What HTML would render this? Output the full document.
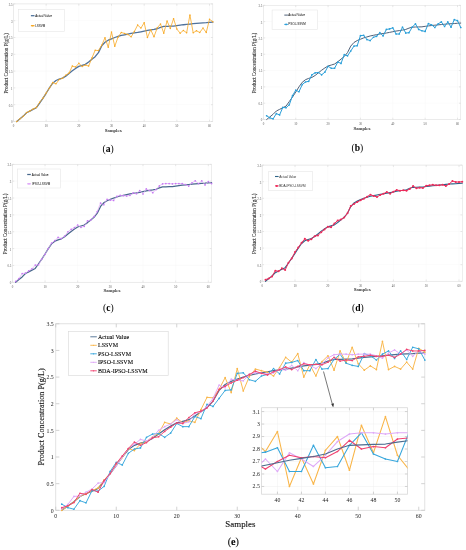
<!DOCTYPE html>
<html><head><meta charset="utf-8"><title>Figure</title>
<style>
html,body{margin:0;padding:0;background:#fff;}
body{width:466px;height:550px;overflow:hidden;font-family:"Liberation Serif",serif;}
svg{display:block;will-change:transform;}
</style></head><body>
<svg width="466" height="550" viewBox="0 0 466 550">
<rect width="466" height="550" fill="#fff"/>
<line x1="13.5" y1="3.9" x2="13.5" y2="121.5" stroke="#f5f5f5" stroke-width="0.45"/>
<line x1="46.17" y1="3.9" x2="46.17" y2="121.5" stroke="#f5f5f5" stroke-width="0.45"/>
<line x1="78.84" y1="3.9" x2="78.84" y2="121.5" stroke="#f5f5f5" stroke-width="0.45"/>
<line x1="111.51" y1="3.9" x2="111.51" y2="121.5" stroke="#f5f5f5" stroke-width="0.45"/>
<line x1="144.18" y1="3.9" x2="144.18" y2="121.5" stroke="#f5f5f5" stroke-width="0.45"/>
<line x1="176.85" y1="3.9" x2="176.85" y2="121.5" stroke="#f5f5f5" stroke-width="0.45"/>
<line x1="209.52" y1="3.9" x2="209.52" y2="121.5" stroke="#f5f5f5" stroke-width="0.45"/>
<line x1="13.5" y1="121.5" x2="212.79" y2="121.5" stroke="#f5f5f5" stroke-width="0.45"/>
<line x1="13.5" y1="104.7" x2="212.79" y2="104.7" stroke="#f5f5f5" stroke-width="0.45"/>
<line x1="13.5" y1="87.9" x2="212.79" y2="87.9" stroke="#f5f5f5" stroke-width="0.45"/>
<line x1="13.5" y1="71.1" x2="212.79" y2="71.1" stroke="#f5f5f5" stroke-width="0.45"/>
<line x1="13.5" y1="54.3" x2="212.79" y2="54.3" stroke="#f5f5f5" stroke-width="0.45"/>
<line x1="13.5" y1="37.5" x2="212.79" y2="37.5" stroke="#f5f5f5" stroke-width="0.45"/>
<line x1="13.5" y1="20.7" x2="212.79" y2="20.7" stroke="#f5f5f5" stroke-width="0.45"/>
<line x1="13.5" y1="3.9" x2="212.79" y2="3.9" stroke="#f5f5f5" stroke-width="0.45"/>
<rect x="13.5" y="3.9" width="199.29" height="117.6" fill="none" stroke="#e2e2e2" stroke-width="0.6"/>
<line x1="13.5" y1="121.5" x2="13.5" y2="119.7" stroke="#d8d8d8" stroke-width="0.6"/>
<line x1="13.5" y1="3.9" x2="13.5" y2="5.7" stroke="#d8d8d8" stroke-width="0.6"/>
<line x1="46.17" y1="121.5" x2="46.17" y2="119.7" stroke="#d8d8d8" stroke-width="0.6"/>
<line x1="46.17" y1="3.9" x2="46.17" y2="5.7" stroke="#d8d8d8" stroke-width="0.6"/>
<line x1="78.84" y1="121.5" x2="78.84" y2="119.7" stroke="#d8d8d8" stroke-width="0.6"/>
<line x1="78.84" y1="3.9" x2="78.84" y2="5.7" stroke="#d8d8d8" stroke-width="0.6"/>
<line x1="111.51" y1="121.5" x2="111.51" y2="119.7" stroke="#d8d8d8" stroke-width="0.6"/>
<line x1="111.51" y1="3.9" x2="111.51" y2="5.7" stroke="#d8d8d8" stroke-width="0.6"/>
<line x1="144.18" y1="121.5" x2="144.18" y2="119.7" stroke="#d8d8d8" stroke-width="0.6"/>
<line x1="144.18" y1="3.9" x2="144.18" y2="5.7" stroke="#d8d8d8" stroke-width="0.6"/>
<line x1="176.85" y1="121.5" x2="176.85" y2="119.7" stroke="#d8d8d8" stroke-width="0.6"/>
<line x1="176.85" y1="3.9" x2="176.85" y2="5.7" stroke="#d8d8d8" stroke-width="0.6"/>
<line x1="209.52" y1="121.5" x2="209.52" y2="119.7" stroke="#d8d8d8" stroke-width="0.6"/>
<line x1="209.52" y1="3.9" x2="209.52" y2="5.7" stroke="#d8d8d8" stroke-width="0.6"/>
<line x1="13.5" y1="121.5" x2="15.3" y2="121.5" stroke="#d8d8d8" stroke-width="0.6"/>
<line x1="212.79" y1="121.5" x2="210.99" y2="121.5" stroke="#d8d8d8" stroke-width="0.6"/>
<line x1="13.5" y1="104.7" x2="15.3" y2="104.7" stroke="#d8d8d8" stroke-width="0.6"/>
<line x1="212.79" y1="104.7" x2="210.99" y2="104.7" stroke="#d8d8d8" stroke-width="0.6"/>
<line x1="13.5" y1="87.9" x2="15.3" y2="87.9" stroke="#d8d8d8" stroke-width="0.6"/>
<line x1="212.79" y1="87.9" x2="210.99" y2="87.9" stroke="#d8d8d8" stroke-width="0.6"/>
<line x1="13.5" y1="71.1" x2="15.3" y2="71.1" stroke="#d8d8d8" stroke-width="0.6"/>
<line x1="212.79" y1="71.1" x2="210.99" y2="71.1" stroke="#d8d8d8" stroke-width="0.6"/>
<line x1="13.5" y1="54.3" x2="15.3" y2="54.3" stroke="#d8d8d8" stroke-width="0.6"/>
<line x1="212.79" y1="54.3" x2="210.99" y2="54.3" stroke="#d8d8d8" stroke-width="0.6"/>
<line x1="13.5" y1="37.5" x2="15.3" y2="37.5" stroke="#d8d8d8" stroke-width="0.6"/>
<line x1="212.79" y1="37.5" x2="210.99" y2="37.5" stroke="#d8d8d8" stroke-width="0.6"/>
<line x1="13.5" y1="20.7" x2="15.3" y2="20.7" stroke="#d8d8d8" stroke-width="0.6"/>
<line x1="212.79" y1="20.7" x2="210.99" y2="20.7" stroke="#d8d8d8" stroke-width="0.6"/>
<line x1="13.5" y1="3.9" x2="15.3" y2="3.9" stroke="#d8d8d8" stroke-width="0.6"/>
<line x1="212.79" y1="3.9" x2="210.99" y2="3.9" stroke="#d8d8d8" stroke-width="0.6"/>
<text x="13.5" y="126.9" font-size="3.1" fill="#555" text-anchor="middle" font-family='"Liberation Serif", serif'>0</text>
<text x="46.17" y="126.9" font-size="3.1" fill="#555" text-anchor="middle" font-family='"Liberation Serif", serif'>10</text>
<text x="78.84" y="126.9" font-size="3.1" fill="#555" text-anchor="middle" font-family='"Liberation Serif", serif'>20</text>
<text x="111.51" y="126.9" font-size="3.1" fill="#555" text-anchor="middle" font-family='"Liberation Serif", serif'>30</text>
<text x="144.18" y="126.9" font-size="3.1" fill="#555" text-anchor="middle" font-family='"Liberation Serif", serif'>40</text>
<text x="176.85" y="126.9" font-size="3.1" fill="#555" text-anchor="middle" font-family='"Liberation Serif", serif'>50</text>
<text x="209.52" y="126.9" font-size="3.1" fill="#555" text-anchor="middle" font-family='"Liberation Serif", serif'>60</text>
<text x="12.5" y="123.42" font-size="3.1" fill="#555" text-anchor="end" font-family='"Liberation Serif", serif'>0</text>
<text x="12.5" y="106.62" font-size="3.1" fill="#555" text-anchor="end" font-family='"Liberation Serif", serif'>0.5</text>
<text x="12.5" y="89.82" font-size="3.1" fill="#555" text-anchor="end" font-family='"Liberation Serif", serif'>1</text>
<text x="12.5" y="73.02" font-size="3.1" fill="#555" text-anchor="end" font-family='"Liberation Serif", serif'>1.5</text>
<text x="12.5" y="56.22" font-size="3.1" fill="#555" text-anchor="end" font-family='"Liberation Serif", serif'>2</text>
<text x="12.5" y="39.42" font-size="3.1" fill="#555" text-anchor="end" font-family='"Liberation Serif", serif'>2.5</text>
<text x="12.5" y="22.62" font-size="3.1" fill="#555" text-anchor="end" font-family='"Liberation Serif", serif'>3</text>
<text x="12.5" y="5.82" font-size="3.1" fill="#555" text-anchor="end" font-family='"Liberation Serif", serif'>3.5</text>
<polyline points="16.77,121.5 20.03,118.81 23.3,116.12 26.57,112.76 29.84,111.08 33.1,109.4 36.37,107.72 39.64,103.02 42.9,98.32 46.17,93.28 49.44,87.9 52.7,83.2 55.97,80.51 59.24,79.16 62.5,78.16 65.77,76.14 69.04,73.45 72.31,70.76 75.57,68.41 78.84,66.4 82.11,65.39 85.37,64.38 88.64,62.03 91.91,59.34 95.17,56.65 98.44,52.62 101.71,45.9 104.98,42.2 108.24,40.19 111.51,38.84 114.78,37.5 118.04,36.49 121.31,35.48 124.58,34.81 127.84,34.14 131.11,33.47 134.38,32.96 137.65,32.46 140.91,31.79 144.18,31.12 147.45,30.44 150.71,29.94 153.98,29.44 157.25,28.76 160.51,27.42 163.78,26.41 167.05,26.28 170.32,26.18 173.58,26.08 176.85,25.57 180.12,25.14 183.38,24.73 186.65,24.4 189.92,24.06 193.19,23.72 196.45,23.39 199.72,23.05 202.99,22.88 206.25,22.72 209.52,22.38 212.79,22.21" fill="none" stroke="#4f729c" stroke-width="1.3" stroke-linejoin="round" stroke-linecap="round" />
<polyline points="16.77,121.5 20.03,118.81 23.3,116.29 26.57,112.6 29.84,111.08 33.1,109.07 36.37,107.39 39.64,102.35 42.9,98.32 46.17,92.94 49.44,88.24 52.7,82.52 55.97,83.87 59.24,79.5 62.5,78.16 65.77,75.13 69.04,73.12 72.31,66.06 75.57,67.07 78.84,63.37 82.11,66.4 85.37,65.05 88.64,66.06 91.91,58 95.17,50.27 98.44,50.6 101.71,45.23 104.98,37.84 108.24,47.24 111.51,32.12 114.78,46.24 118.04,37.16 121.31,32.46 124.58,33.47 127.84,34.48 131.11,36.83 134.38,31.45 137.65,25.07 140.91,28.09 144.18,22.72 147.45,37.5 150.71,29.77 153.98,36.83 157.25,27.76 160.51,24.06 163.78,33.13 167.05,21.04 170.32,28.43 173.58,18.68 176.85,29.1 180.12,33.13 183.38,30.44 186.65,32.8 189.92,14.99 193.19,32.8 196.45,30.78 199.72,32.46 202.99,28.09 206.25,32.46 209.52,19.36 212.79,21.71" fill="none" stroke="#f7a823" stroke-width="0.8" stroke-linejoin="round" stroke-linecap="round" />
<circle cx="16.77" cy="121.5" r="0.75" fill="#f7a823"/>
<circle cx="20.03" cy="118.81" r="0.75" fill="#f7a823"/>
<circle cx="23.3" cy="116.29" r="0.75" fill="#f7a823"/>
<circle cx="26.57" cy="112.6" r="0.75" fill="#f7a823"/>
<circle cx="29.84" cy="111.08" r="0.75" fill="#f7a823"/>
<circle cx="33.1" cy="109.07" r="0.75" fill="#f7a823"/>
<circle cx="36.37" cy="107.39" r="0.75" fill="#f7a823"/>
<circle cx="39.64" cy="102.35" r="0.75" fill="#f7a823"/>
<circle cx="42.9" cy="98.32" r="0.75" fill="#f7a823"/>
<circle cx="46.17" cy="92.94" r="0.75" fill="#f7a823"/>
<circle cx="49.44" cy="88.24" r="0.75" fill="#f7a823"/>
<circle cx="52.7" cy="82.52" r="0.75" fill="#f7a823"/>
<circle cx="55.97" cy="83.87" r="0.75" fill="#f7a823"/>
<circle cx="59.24" cy="79.5" r="0.75" fill="#f7a823"/>
<circle cx="62.5" cy="78.16" r="0.75" fill="#f7a823"/>
<circle cx="65.77" cy="75.13" r="0.75" fill="#f7a823"/>
<circle cx="69.04" cy="73.12" r="0.75" fill="#f7a823"/>
<circle cx="72.31" cy="66.06" r="0.75" fill="#f7a823"/>
<circle cx="75.57" cy="67.07" r="0.75" fill="#f7a823"/>
<circle cx="78.84" cy="63.37" r="0.75" fill="#f7a823"/>
<circle cx="82.11" cy="66.4" r="0.75" fill="#f7a823"/>
<circle cx="85.37" cy="65.05" r="0.75" fill="#f7a823"/>
<circle cx="88.64" cy="66.06" r="0.75" fill="#f7a823"/>
<circle cx="91.91" cy="58" r="0.75" fill="#f7a823"/>
<circle cx="95.17" cy="50.27" r="0.75" fill="#f7a823"/>
<circle cx="98.44" cy="50.6" r="0.75" fill="#f7a823"/>
<circle cx="101.71" cy="45.23" r="0.75" fill="#f7a823"/>
<circle cx="104.98" cy="37.84" r="0.75" fill="#f7a823"/>
<circle cx="108.24" cy="47.24" r="0.75" fill="#f7a823"/>
<circle cx="111.51" cy="32.12" r="0.75" fill="#f7a823"/>
<circle cx="114.78" cy="46.24" r="0.75" fill="#f7a823"/>
<circle cx="118.04" cy="37.16" r="0.75" fill="#f7a823"/>
<circle cx="121.31" cy="32.46" r="0.75" fill="#f7a823"/>
<circle cx="124.58" cy="33.47" r="0.75" fill="#f7a823"/>
<circle cx="127.84" cy="34.48" r="0.75" fill="#f7a823"/>
<circle cx="131.11" cy="36.83" r="0.75" fill="#f7a823"/>
<circle cx="134.38" cy="31.45" r="0.75" fill="#f7a823"/>
<circle cx="137.65" cy="25.07" r="0.75" fill="#f7a823"/>
<circle cx="140.91" cy="28.09" r="0.75" fill="#f7a823"/>
<circle cx="144.18" cy="22.72" r="0.75" fill="#f7a823"/>
<circle cx="147.45" cy="37.5" r="0.75" fill="#f7a823"/>
<circle cx="150.71" cy="29.77" r="0.75" fill="#f7a823"/>
<circle cx="153.98" cy="36.83" r="0.75" fill="#f7a823"/>
<circle cx="157.25" cy="27.76" r="0.75" fill="#f7a823"/>
<circle cx="160.51" cy="24.06" r="0.75" fill="#f7a823"/>
<circle cx="163.78" cy="33.13" r="0.75" fill="#f7a823"/>
<circle cx="167.05" cy="21.04" r="0.75" fill="#f7a823"/>
<circle cx="170.32" cy="28.43" r="0.75" fill="#f7a823"/>
<circle cx="173.58" cy="18.68" r="0.75" fill="#f7a823"/>
<circle cx="176.85" cy="29.1" r="0.75" fill="#f7a823"/>
<circle cx="180.12" cy="33.13" r="0.75" fill="#f7a823"/>
<circle cx="183.38" cy="30.44" r="0.75" fill="#f7a823"/>
<circle cx="186.65" cy="32.8" r="0.75" fill="#f7a823"/>
<circle cx="189.92" cy="14.99" r="0.75" fill="#f7a823"/>
<circle cx="193.19" cy="32.8" r="0.75" fill="#f7a823"/>
<circle cx="196.45" cy="30.78" r="0.75" fill="#f7a823"/>
<circle cx="199.72" cy="32.46" r="0.75" fill="#f7a823"/>
<circle cx="202.99" cy="28.09" r="0.75" fill="#f7a823"/>
<circle cx="206.25" cy="32.46" r="0.75" fill="#f7a823"/>
<circle cx="209.52" cy="19.36" r="0.75" fill="#f7a823"/>
<circle cx="212.79" cy="21.71" r="0.75" fill="#f7a823"/>
<rect x="18.4" y="9.3" width="46.1" height="22" fill="#fff" stroke="#e6e6e6" stroke-width="0.6"/>
<line x1="30.9" y1="15.7" x2="34.5" y2="15.7" stroke="#4f729c" stroke-width="1.3"/>
<text x="35.2" y="16.75" font-size="3.0" fill="#222" stroke="#222" stroke-width="0.03" font-family='"Liberation Sans", sans-serif'>Actual Value</text>
<line x1="30.9" y1="25.7" x2="34.5" y2="25.7" stroke="#f7a823" stroke-width="1.3"/>
<circle cx="32.7" cy="25.7" r="0.75" fill="#f7a823"/>
<text x="35.2" y="26.75" font-size="3.0" fill="#222" stroke="#222" stroke-width="0.03" font-family='"Liberation Sans", sans-serif'>LSSVM</text>
<text x="113.14" y="131.6" font-size="5.0" fill="#222" stroke="#222" stroke-width="0.08" text-anchor="middle" font-family='"Liberation Serif", serif'>Samples</text>
<text transform="translate(7.9,63.3) rotate(-90)" font-size="5.1" fill="#222" stroke="#222" stroke-width="0.08" text-anchor="middle" font-family='"Liberation Serif", serif'>Product Concentration P(g/L)</text>
<text x="108.2" y="151.5" font-size="9.6" fill="#000" text-anchor="middle" font-family='"Liberation Serif", serif'>(<tspan font-weight="bold">a</tspan>)</text>
<line x1="263.4" y1="5.29" x2="263.4" y2="119.5" stroke="#f5f5f5" stroke-width="0.45"/>
<line x1="295.75" y1="5.29" x2="295.75" y2="119.5" stroke="#f5f5f5" stroke-width="0.45"/>
<line x1="328.1" y1="5.29" x2="328.1" y2="119.5" stroke="#f5f5f5" stroke-width="0.45"/>
<line x1="360.45" y1="5.29" x2="360.45" y2="119.5" stroke="#f5f5f5" stroke-width="0.45"/>
<line x1="392.8" y1="5.29" x2="392.8" y2="119.5" stroke="#f5f5f5" stroke-width="0.45"/>
<line x1="425.15" y1="5.29" x2="425.15" y2="119.5" stroke="#f5f5f5" stroke-width="0.45"/>
<line x1="457.5" y1="5.29" x2="457.5" y2="119.5" stroke="#f5f5f5" stroke-width="0.45"/>
<line x1="263.4" y1="119.5" x2="460.73" y2="119.5" stroke="#f5f5f5" stroke-width="0.45"/>
<line x1="263.4" y1="103.19" x2="460.73" y2="103.19" stroke="#f5f5f5" stroke-width="0.45"/>
<line x1="263.4" y1="86.87" x2="460.73" y2="86.87" stroke="#f5f5f5" stroke-width="0.45"/>
<line x1="263.4" y1="70.55" x2="460.73" y2="70.55" stroke="#f5f5f5" stroke-width="0.45"/>
<line x1="263.4" y1="54.24" x2="460.73" y2="54.24" stroke="#f5f5f5" stroke-width="0.45"/>
<line x1="263.4" y1="37.92" x2="460.73" y2="37.92" stroke="#f5f5f5" stroke-width="0.45"/>
<line x1="263.4" y1="21.61" x2="460.73" y2="21.61" stroke="#f5f5f5" stroke-width="0.45"/>
<line x1="263.4" y1="5.29" x2="460.73" y2="5.29" stroke="#f5f5f5" stroke-width="0.45"/>
<rect x="263.4" y="5.29" width="197.33" height="114.21" fill="none" stroke="#e2e2e2" stroke-width="0.6"/>
<line x1="263.4" y1="119.5" x2="263.4" y2="117.7" stroke="#d8d8d8" stroke-width="0.6"/>
<line x1="263.4" y1="5.29" x2="263.4" y2="7.09" stroke="#d8d8d8" stroke-width="0.6"/>
<line x1="295.75" y1="119.5" x2="295.75" y2="117.7" stroke="#d8d8d8" stroke-width="0.6"/>
<line x1="295.75" y1="5.29" x2="295.75" y2="7.09" stroke="#d8d8d8" stroke-width="0.6"/>
<line x1="328.1" y1="119.5" x2="328.1" y2="117.7" stroke="#d8d8d8" stroke-width="0.6"/>
<line x1="328.1" y1="5.29" x2="328.1" y2="7.09" stroke="#d8d8d8" stroke-width="0.6"/>
<line x1="360.45" y1="119.5" x2="360.45" y2="117.7" stroke="#d8d8d8" stroke-width="0.6"/>
<line x1="360.45" y1="5.29" x2="360.45" y2="7.09" stroke="#d8d8d8" stroke-width="0.6"/>
<line x1="392.8" y1="119.5" x2="392.8" y2="117.7" stroke="#d8d8d8" stroke-width="0.6"/>
<line x1="392.8" y1="5.29" x2="392.8" y2="7.09" stroke="#d8d8d8" stroke-width="0.6"/>
<line x1="425.15" y1="119.5" x2="425.15" y2="117.7" stroke="#d8d8d8" stroke-width="0.6"/>
<line x1="425.15" y1="5.29" x2="425.15" y2="7.09" stroke="#d8d8d8" stroke-width="0.6"/>
<line x1="457.5" y1="119.5" x2="457.5" y2="117.7" stroke="#d8d8d8" stroke-width="0.6"/>
<line x1="457.5" y1="5.29" x2="457.5" y2="7.09" stroke="#d8d8d8" stroke-width="0.6"/>
<line x1="263.4" y1="119.5" x2="265.2" y2="119.5" stroke="#d8d8d8" stroke-width="0.6"/>
<line x1="460.73" y1="119.5" x2="458.93" y2="119.5" stroke="#d8d8d8" stroke-width="0.6"/>
<line x1="263.4" y1="103.19" x2="265.2" y2="103.19" stroke="#d8d8d8" stroke-width="0.6"/>
<line x1="460.73" y1="103.19" x2="458.93" y2="103.19" stroke="#d8d8d8" stroke-width="0.6"/>
<line x1="263.4" y1="86.87" x2="265.2" y2="86.87" stroke="#d8d8d8" stroke-width="0.6"/>
<line x1="460.73" y1="86.87" x2="458.93" y2="86.87" stroke="#d8d8d8" stroke-width="0.6"/>
<line x1="263.4" y1="70.55" x2="265.2" y2="70.55" stroke="#d8d8d8" stroke-width="0.6"/>
<line x1="460.73" y1="70.55" x2="458.93" y2="70.55" stroke="#d8d8d8" stroke-width="0.6"/>
<line x1="263.4" y1="54.24" x2="265.2" y2="54.24" stroke="#d8d8d8" stroke-width="0.6"/>
<line x1="460.73" y1="54.24" x2="458.93" y2="54.24" stroke="#d8d8d8" stroke-width="0.6"/>
<line x1="263.4" y1="37.92" x2="265.2" y2="37.92" stroke="#d8d8d8" stroke-width="0.6"/>
<line x1="460.73" y1="37.92" x2="458.93" y2="37.92" stroke="#d8d8d8" stroke-width="0.6"/>
<line x1="263.4" y1="21.61" x2="265.2" y2="21.61" stroke="#d8d8d8" stroke-width="0.6"/>
<line x1="460.73" y1="21.61" x2="458.93" y2="21.61" stroke="#d8d8d8" stroke-width="0.6"/>
<line x1="263.4" y1="5.29" x2="265.2" y2="5.29" stroke="#d8d8d8" stroke-width="0.6"/>
<line x1="460.73" y1="5.29" x2="458.93" y2="5.29" stroke="#d8d8d8" stroke-width="0.6"/>
<text x="263.4" y="124.9" font-size="3.1" fill="#555" text-anchor="middle" font-family='"Liberation Serif", serif'>0</text>
<text x="295.75" y="124.9" font-size="3.1" fill="#555" text-anchor="middle" font-family='"Liberation Serif", serif'>10</text>
<text x="328.1" y="124.9" font-size="3.1" fill="#555" text-anchor="middle" font-family='"Liberation Serif", serif'>20</text>
<text x="360.45" y="124.9" font-size="3.1" fill="#555" text-anchor="middle" font-family='"Liberation Serif", serif'>30</text>
<text x="392.8" y="124.9" font-size="3.1" fill="#555" text-anchor="middle" font-family='"Liberation Serif", serif'>40</text>
<text x="425.15" y="124.9" font-size="3.1" fill="#555" text-anchor="middle" font-family='"Liberation Serif", serif'>50</text>
<text x="457.5" y="124.9" font-size="3.1" fill="#555" text-anchor="middle" font-family='"Liberation Serif", serif'>60</text>
<text x="262.4" y="121.42" font-size="3.1" fill="#555" text-anchor="end" font-family='"Liberation Serif", serif'>0</text>
<text x="262.4" y="105.11" font-size="3.1" fill="#555" text-anchor="end" font-family='"Liberation Serif", serif'>0.5</text>
<text x="262.4" y="88.79" font-size="3.1" fill="#555" text-anchor="end" font-family='"Liberation Serif", serif'>1</text>
<text x="262.4" y="72.48" font-size="3.1" fill="#555" text-anchor="end" font-family='"Liberation Serif", serif'>1.5</text>
<text x="262.4" y="56.16" font-size="3.1" fill="#555" text-anchor="end" font-family='"Liberation Serif", serif'>2</text>
<text x="262.4" y="39.85" font-size="3.1" fill="#555" text-anchor="end" font-family='"Liberation Serif", serif'>2.5</text>
<text x="262.4" y="23.53" font-size="3.1" fill="#555" text-anchor="end" font-family='"Liberation Serif", serif'>3</text>
<text x="262.4" y="7.22" font-size="3.1" fill="#555" text-anchor="end" font-family='"Liberation Serif", serif'>3.5</text>
<polyline points="266.63,119.5 269.87,116.89 273.1,114.28 276.34,111.02 279.57,109.38 282.81,107.75 286.04,106.12 289.28,101.55 292.51,96.99 295.75,92.09 298.98,86.87 302.22,82.3 305.45,79.69 308.69,78.39 311.92,77.41 315.16,75.45 318.39,72.84 321.63,70.23 324.86,67.94 328.1,65.99 331.33,65.01 334.57,64.03 337.8,61.74 341.04,59.13 344.27,56.52 347.51,52.61 350.75,46.08 353.98,42.49 357.21,40.54 360.45,39.23 363.68,37.92 366.92,36.95 370.15,35.97 373.39,35.31 376.62,34.66 379.86,34.01 383.09,33.52 386.33,33.03 389.56,32.38 392.8,31.73 396.03,31.07 399.27,30.58 402.5,30.09 405.74,29.44 408.97,28.14 412.21,27.16 415.44,27.03 418.68,26.93 421.91,26.83 425.15,26.34 428.38,25.92 431.62,25.53 434.85,25.2 438.09,24.87 441.32,24.55 444.56,24.22 447.79,23.89 451.03,23.73 454.26,23.57 457.5,23.24 460.73,23.08" fill="none" stroke="#4f6078" stroke-width="1.0" stroke-linejoin="round" stroke-linecap="round" />
<polyline points="266.63,115.75 269.87,117.87 273.1,118.85 276.34,113.63 279.57,114.93 282.81,107.43 286.04,107.75 289.28,104.82 292.51,95.68 295.75,90.13 298.98,91.76 302.22,84.59 305.45,81.98 308.69,81.32 311.92,74.8 315.16,72.84 318.39,72.51 321.63,74.8 324.86,72.19 328.1,66.31 331.33,68.27 334.57,68.27 337.8,62.07 341.04,63.38 344.27,54.57 347.51,55.87 350.75,50.98 353.98,46.08 357.21,45.76 360.45,35.64 363.68,35.31 366.92,39.56 370.15,40.54 373.39,37.27 376.62,36.29 379.86,32.7 383.09,35.97 386.33,29.44 389.56,28.95 392.8,27.81 396.03,34.01 399.27,34.01 402.5,27.16 405.74,33.03 408.97,32.7 412.21,27.16 415.44,23.89 418.68,29.44 421.91,30.75 425.15,31.4 428.38,23.57 431.62,24.87 434.85,27.48 438.09,23.89 441.32,21.94 444.56,26.5 447.79,21.94 451.03,27.16 454.26,19.65 457.5,20.63 460.73,27.48" fill="none" stroke="#2a9fd9" stroke-width="1.0" stroke-linejoin="round" stroke-linecap="round" />
<circle cx="266.63" cy="115.75" r="0.85" fill="#2a9fd9"/>
<circle cx="269.87" cy="117.87" r="0.85" fill="#2a9fd9"/>
<circle cx="273.1" cy="118.85" r="0.85" fill="#2a9fd9"/>
<circle cx="276.34" cy="113.63" r="0.85" fill="#2a9fd9"/>
<circle cx="279.57" cy="114.93" r="0.85" fill="#2a9fd9"/>
<circle cx="282.81" cy="107.43" r="0.85" fill="#2a9fd9"/>
<circle cx="286.04" cy="107.75" r="0.85" fill="#2a9fd9"/>
<circle cx="289.28" cy="104.82" r="0.85" fill="#2a9fd9"/>
<circle cx="292.51" cy="95.68" r="0.85" fill="#2a9fd9"/>
<circle cx="295.75" cy="90.13" r="0.85" fill="#2a9fd9"/>
<circle cx="298.98" cy="91.76" r="0.85" fill="#2a9fd9"/>
<circle cx="302.22" cy="84.59" r="0.85" fill="#2a9fd9"/>
<circle cx="305.45" cy="81.98" r="0.85" fill="#2a9fd9"/>
<circle cx="308.69" cy="81.32" r="0.85" fill="#2a9fd9"/>
<circle cx="311.92" cy="74.8" r="0.85" fill="#2a9fd9"/>
<circle cx="315.16" cy="72.84" r="0.85" fill="#2a9fd9"/>
<circle cx="318.39" cy="72.51" r="0.85" fill="#2a9fd9"/>
<circle cx="321.63" cy="74.8" r="0.85" fill="#2a9fd9"/>
<circle cx="324.86" cy="72.19" r="0.85" fill="#2a9fd9"/>
<circle cx="328.1" cy="66.31" r="0.85" fill="#2a9fd9"/>
<circle cx="331.33" cy="68.27" r="0.85" fill="#2a9fd9"/>
<circle cx="334.57" cy="68.27" r="0.85" fill="#2a9fd9"/>
<circle cx="337.8" cy="62.07" r="0.85" fill="#2a9fd9"/>
<circle cx="341.04" cy="63.38" r="0.85" fill="#2a9fd9"/>
<circle cx="344.27" cy="54.57" r="0.85" fill="#2a9fd9"/>
<circle cx="347.51" cy="55.87" r="0.85" fill="#2a9fd9"/>
<circle cx="350.75" cy="50.98" r="0.85" fill="#2a9fd9"/>
<circle cx="353.98" cy="46.08" r="0.85" fill="#2a9fd9"/>
<circle cx="357.21" cy="45.76" r="0.85" fill="#2a9fd9"/>
<circle cx="360.45" cy="35.64" r="0.85" fill="#2a9fd9"/>
<circle cx="363.68" cy="35.31" r="0.85" fill="#2a9fd9"/>
<circle cx="366.92" cy="39.56" r="0.85" fill="#2a9fd9"/>
<circle cx="370.15" cy="40.54" r="0.85" fill="#2a9fd9"/>
<circle cx="373.39" cy="37.27" r="0.85" fill="#2a9fd9"/>
<circle cx="376.62" cy="36.29" r="0.85" fill="#2a9fd9"/>
<circle cx="379.86" cy="32.7" r="0.85" fill="#2a9fd9"/>
<circle cx="383.09" cy="35.97" r="0.85" fill="#2a9fd9"/>
<circle cx="386.33" cy="29.44" r="0.85" fill="#2a9fd9"/>
<circle cx="389.56" cy="28.95" r="0.85" fill="#2a9fd9"/>
<circle cx="392.8" cy="27.81" r="0.85" fill="#2a9fd9"/>
<circle cx="396.03" cy="34.01" r="0.85" fill="#2a9fd9"/>
<circle cx="399.27" cy="34.01" r="0.85" fill="#2a9fd9"/>
<circle cx="402.5" cy="27.16" r="0.85" fill="#2a9fd9"/>
<circle cx="405.74" cy="33.03" r="0.85" fill="#2a9fd9"/>
<circle cx="408.97" cy="32.7" r="0.85" fill="#2a9fd9"/>
<circle cx="412.21" cy="27.16" r="0.85" fill="#2a9fd9"/>
<circle cx="415.44" cy="23.89" r="0.85" fill="#2a9fd9"/>
<circle cx="418.68" cy="29.44" r="0.85" fill="#2a9fd9"/>
<circle cx="421.91" cy="30.75" r="0.85" fill="#2a9fd9"/>
<circle cx="425.15" cy="31.4" r="0.85" fill="#2a9fd9"/>
<circle cx="428.38" cy="23.57" r="0.85" fill="#2a9fd9"/>
<circle cx="431.62" cy="24.87" r="0.85" fill="#2a9fd9"/>
<circle cx="434.85" cy="27.48" r="0.85" fill="#2a9fd9"/>
<circle cx="438.09" cy="23.89" r="0.85" fill="#2a9fd9"/>
<circle cx="441.32" cy="21.94" r="0.85" fill="#2a9fd9"/>
<circle cx="444.56" cy="26.5" r="0.85" fill="#2a9fd9"/>
<circle cx="447.79" cy="21.94" r="0.85" fill="#2a9fd9"/>
<circle cx="451.03" cy="27.16" r="0.85" fill="#2a9fd9"/>
<circle cx="454.26" cy="19.65" r="0.85" fill="#2a9fd9"/>
<circle cx="457.5" cy="20.63" r="0.85" fill="#2a9fd9"/>
<circle cx="460.73" cy="27.48" r="0.85" fill="#2a9fd9"/>
<rect x="272.1" y="10" width="45.5" height="19.5" fill="#fff" stroke="#e6e6e6" stroke-width="0.6"/>
<line x1="284.3" y1="15.1" x2="287.9" y2="15.1" stroke="#4f6078" stroke-width="1.0"/>
<text x="288.2" y="16.15" font-size="3.0" fill="#222" stroke="#222" stroke-width="0.03" font-family='"Liberation Sans", sans-serif'>Actual Value</text>
<line x1="284.3" y1="24.4" x2="287.9" y2="24.4" stroke="#2a9fd9" stroke-width="1.0"/>
<circle cx="286.1" cy="24.4" r="0.85" fill="#2a9fd9"/>
<text x="288.2" y="25.45" font-size="3.0" fill="#222" stroke="#222" stroke-width="0.03" font-family='"Liberation Sans", sans-serif'>PSO-LSSVM</text>
<text x="362.07" y="129.9" font-size="5.0" fill="#222" stroke="#222" stroke-width="0.08" text-anchor="middle" font-family='"Liberation Serif", serif'>Samples</text>
<text transform="translate(256,63) rotate(-90)" font-size="5.1" fill="#222" stroke="#222" stroke-width="0.08" text-anchor="middle" font-family='"Liberation Serif", serif'>Product Concentration P(g/L)</text>
<text x="357.4" y="151.3" font-size="9.6" fill="#000" text-anchor="middle" font-family='"Liberation Serif", serif'>(<tspan font-weight="bold">b</tspan>)</text>
<line x1="12.4" y1="164.31" x2="12.4" y2="282.3" stroke="#f5f5f5" stroke-width="0.45"/>
<line x1="45.05" y1="164.31" x2="45.05" y2="282.3" stroke="#f5f5f5" stroke-width="0.45"/>
<line x1="77.7" y1="164.31" x2="77.7" y2="282.3" stroke="#f5f5f5" stroke-width="0.45"/>
<line x1="110.35" y1="164.31" x2="110.35" y2="282.3" stroke="#f5f5f5" stroke-width="0.45"/>
<line x1="143" y1="164.31" x2="143" y2="282.3" stroke="#f5f5f5" stroke-width="0.45"/>
<line x1="175.65" y1="164.31" x2="175.65" y2="282.3" stroke="#f5f5f5" stroke-width="0.45"/>
<line x1="208.3" y1="164.31" x2="208.3" y2="282.3" stroke="#f5f5f5" stroke-width="0.45"/>
<line x1="12.4" y1="282.3" x2="211.57" y2="282.3" stroke="#f5f5f5" stroke-width="0.45"/>
<line x1="12.4" y1="265.44" x2="211.57" y2="265.44" stroke="#f5f5f5" stroke-width="0.45"/>
<line x1="12.4" y1="248.59" x2="211.57" y2="248.59" stroke="#f5f5f5" stroke-width="0.45"/>
<line x1="12.4" y1="231.74" x2="211.57" y2="231.74" stroke="#f5f5f5" stroke-width="0.45"/>
<line x1="12.4" y1="214.88" x2="211.57" y2="214.88" stroke="#f5f5f5" stroke-width="0.45"/>
<line x1="12.4" y1="198.03" x2="211.57" y2="198.03" stroke="#f5f5f5" stroke-width="0.45"/>
<line x1="12.4" y1="181.17" x2="211.57" y2="181.17" stroke="#f5f5f5" stroke-width="0.45"/>
<line x1="12.4" y1="164.31" x2="211.57" y2="164.31" stroke="#f5f5f5" stroke-width="0.45"/>
<rect x="12.4" y="164.31" width="199.17" height="117.99" fill="none" stroke="#e2e2e2" stroke-width="0.6"/>
<line x1="12.4" y1="282.3" x2="12.4" y2="280.5" stroke="#d8d8d8" stroke-width="0.6"/>
<line x1="12.4" y1="164.31" x2="12.4" y2="166.12" stroke="#d8d8d8" stroke-width="0.6"/>
<line x1="45.05" y1="282.3" x2="45.05" y2="280.5" stroke="#d8d8d8" stroke-width="0.6"/>
<line x1="45.05" y1="164.31" x2="45.05" y2="166.12" stroke="#d8d8d8" stroke-width="0.6"/>
<line x1="77.7" y1="282.3" x2="77.7" y2="280.5" stroke="#d8d8d8" stroke-width="0.6"/>
<line x1="77.7" y1="164.31" x2="77.7" y2="166.12" stroke="#d8d8d8" stroke-width="0.6"/>
<line x1="110.35" y1="282.3" x2="110.35" y2="280.5" stroke="#d8d8d8" stroke-width="0.6"/>
<line x1="110.35" y1="164.31" x2="110.35" y2="166.12" stroke="#d8d8d8" stroke-width="0.6"/>
<line x1="143" y1="282.3" x2="143" y2="280.5" stroke="#d8d8d8" stroke-width="0.6"/>
<line x1="143" y1="164.31" x2="143" y2="166.12" stroke="#d8d8d8" stroke-width="0.6"/>
<line x1="175.65" y1="282.3" x2="175.65" y2="280.5" stroke="#d8d8d8" stroke-width="0.6"/>
<line x1="175.65" y1="164.31" x2="175.65" y2="166.12" stroke="#d8d8d8" stroke-width="0.6"/>
<line x1="208.3" y1="282.3" x2="208.3" y2="280.5" stroke="#d8d8d8" stroke-width="0.6"/>
<line x1="208.3" y1="164.31" x2="208.3" y2="166.12" stroke="#d8d8d8" stroke-width="0.6"/>
<line x1="12.4" y1="282.3" x2="14.2" y2="282.3" stroke="#d8d8d8" stroke-width="0.6"/>
<line x1="211.57" y1="282.3" x2="209.77" y2="282.3" stroke="#d8d8d8" stroke-width="0.6"/>
<line x1="12.4" y1="265.44" x2="14.2" y2="265.44" stroke="#d8d8d8" stroke-width="0.6"/>
<line x1="211.57" y1="265.44" x2="209.77" y2="265.44" stroke="#d8d8d8" stroke-width="0.6"/>
<line x1="12.4" y1="248.59" x2="14.2" y2="248.59" stroke="#d8d8d8" stroke-width="0.6"/>
<line x1="211.57" y1="248.59" x2="209.77" y2="248.59" stroke="#d8d8d8" stroke-width="0.6"/>
<line x1="12.4" y1="231.74" x2="14.2" y2="231.74" stroke="#d8d8d8" stroke-width="0.6"/>
<line x1="211.57" y1="231.74" x2="209.77" y2="231.74" stroke="#d8d8d8" stroke-width="0.6"/>
<line x1="12.4" y1="214.88" x2="14.2" y2="214.88" stroke="#d8d8d8" stroke-width="0.6"/>
<line x1="211.57" y1="214.88" x2="209.77" y2="214.88" stroke="#d8d8d8" stroke-width="0.6"/>
<line x1="12.4" y1="198.03" x2="14.2" y2="198.03" stroke="#d8d8d8" stroke-width="0.6"/>
<line x1="211.57" y1="198.03" x2="209.77" y2="198.03" stroke="#d8d8d8" stroke-width="0.6"/>
<line x1="12.4" y1="181.17" x2="14.2" y2="181.17" stroke="#d8d8d8" stroke-width="0.6"/>
<line x1="211.57" y1="181.17" x2="209.77" y2="181.17" stroke="#d8d8d8" stroke-width="0.6"/>
<line x1="12.4" y1="164.31" x2="14.2" y2="164.31" stroke="#d8d8d8" stroke-width="0.6"/>
<line x1="211.57" y1="164.31" x2="209.77" y2="164.31" stroke="#d8d8d8" stroke-width="0.6"/>
<text x="12.4" y="287.7" font-size="3.1" fill="#555" text-anchor="middle" font-family='"Liberation Serif", serif'>0</text>
<text x="45.05" y="287.7" font-size="3.1" fill="#555" text-anchor="middle" font-family='"Liberation Serif", serif'>10</text>
<text x="77.7" y="287.7" font-size="3.1" fill="#555" text-anchor="middle" font-family='"Liberation Serif", serif'>20</text>
<text x="110.35" y="287.7" font-size="3.1" fill="#555" text-anchor="middle" font-family='"Liberation Serif", serif'>30</text>
<text x="143" y="287.7" font-size="3.1" fill="#555" text-anchor="middle" font-family='"Liberation Serif", serif'>40</text>
<text x="175.65" y="287.7" font-size="3.1" fill="#555" text-anchor="middle" font-family='"Liberation Serif", serif'>50</text>
<text x="208.3" y="287.7" font-size="3.1" fill="#555" text-anchor="middle" font-family='"Liberation Serif", serif'>60</text>
<text x="11.4" y="284.22" font-size="3.1" fill="#555" text-anchor="end" font-family='"Liberation Serif", serif'>0</text>
<text x="11.4" y="267.37" font-size="3.1" fill="#555" text-anchor="end" font-family='"Liberation Serif", serif'>0.5</text>
<text x="11.4" y="250.51" font-size="3.1" fill="#555" text-anchor="end" font-family='"Liberation Serif", serif'>1</text>
<text x="11.4" y="233.66" font-size="3.1" fill="#555" text-anchor="end" font-family='"Liberation Serif", serif'>1.5</text>
<text x="11.4" y="216.8" font-size="3.1" fill="#555" text-anchor="end" font-family='"Liberation Serif", serif'>2</text>
<text x="11.4" y="199.95" font-size="3.1" fill="#555" text-anchor="end" font-family='"Liberation Serif", serif'>2.5</text>
<text x="11.4" y="183.09" font-size="3.1" fill="#555" text-anchor="end" font-family='"Liberation Serif", serif'>3</text>
<text x="11.4" y="166.24" font-size="3.1" fill="#555" text-anchor="end" font-family='"Liberation Serif", serif'>3.5</text>
<polyline points="15.67,282.3 18.93,279.6 22.2,276.91 25.46,273.54 28.73,271.85 31.99,270.16 35.26,268.48 38.52,263.76 41.79,259.04 45.05,253.98 48.31,248.59 51.58,243.87 54.84,241.17 58.11,239.83 61.38,238.81 64.64,236.79 67.91,234.09 71.17,231.4 74.44,229.04 77.7,227.02 80.97,226 84.23,224.99 87.5,222.63 90.76,219.94 94.03,217.24 97.29,213.19 100.56,206.45 103.82,202.74 107.09,200.72 110.35,199.37 113.62,198.03 116.88,197.01 120.15,196 123.41,195.33 126.68,194.65 129.94,193.98 133.21,193.47 136.47,192.97 139.74,192.29 143,191.62 146.27,190.95 149.53,190.44 152.8,189.93 156.06,189.26 159.33,187.91 162.59,186.9 165.86,186.77 169.12,186.66 172.39,186.56 175.65,186.06 178.92,185.62 182.18,185.22 185.45,184.88 188.71,184.54 191.98,184.2 195.24,183.87 198.51,183.53 201.77,183.36 205.04,183.19 208.3,182.86 211.57,182.69" fill="none" stroke="#48688c" stroke-width="1.25" stroke-linejoin="round" stroke-linecap="round" />
<polyline points="15.67,281.29 18.93,278.59 22.2,273.54 25.46,273.2 28.73,270.84 31.99,268.82 35.26,265.11 38.52,264.77 41.79,259.04 45.05,254.32 48.31,248.59 51.58,243.2 54.84,240.5 58.11,237.47 61.38,238.48 64.64,236.12 67.91,231.74 71.17,229.38 74.44,227.69 77.7,224.99 80.97,227.35 84.23,226.34 87.5,220.95 90.76,219.94 94.03,216.57 97.29,211.51 100.56,203.08 103.82,204.77 107.09,199.37 110.35,200.05 113.62,200.38 116.88,196.34 120.15,195.33 123.41,195.67 126.68,196 129.94,195.33 133.21,192.97 136.47,193.64 139.74,190.61 143,193.98 146.27,188.92 149.53,190.61 152.8,192.63 156.06,189.6 159.33,185.89 162.59,183.87 165.86,183.53 169.12,183.53 172.39,183.87 175.65,183.53 178.92,183.53 182.18,183.53 185.45,184.54 188.71,186.06 191.98,182.86 195.24,180.83 198.51,183.53 201.77,180.83 205.04,184.88 208.3,181.51 211.57,183.53" fill="none" stroke="#dfa6f8" stroke-width="0.7" stroke-linejoin="round" stroke-linecap="round" />
<circle cx="15.67" cy="281.29" r="0.85" fill="#c678f2"/>
<circle cx="18.93" cy="278.59" r="0.85" fill="#c678f2"/>
<circle cx="22.2" cy="273.54" r="0.85" fill="#c678f2"/>
<circle cx="25.46" cy="273.2" r="0.85" fill="#c678f2"/>
<circle cx="28.73" cy="270.84" r="0.85" fill="#c678f2"/>
<circle cx="31.99" cy="268.82" r="0.85" fill="#c678f2"/>
<circle cx="35.26" cy="265.11" r="0.85" fill="#c678f2"/>
<circle cx="38.52" cy="264.77" r="0.85" fill="#c678f2"/>
<circle cx="41.79" cy="259.04" r="0.85" fill="#c678f2"/>
<circle cx="45.05" cy="254.32" r="0.85" fill="#c678f2"/>
<circle cx="48.31" cy="248.59" r="0.85" fill="#c678f2"/>
<circle cx="51.58" cy="243.2" r="0.85" fill="#c678f2"/>
<circle cx="54.84" cy="240.5" r="0.85" fill="#c678f2"/>
<circle cx="58.11" cy="237.47" r="0.85" fill="#c678f2"/>
<circle cx="61.38" cy="238.48" r="0.85" fill="#c678f2"/>
<circle cx="64.64" cy="236.12" r="0.85" fill="#c678f2"/>
<circle cx="67.91" cy="231.74" r="0.85" fill="#c678f2"/>
<circle cx="71.17" cy="229.38" r="0.85" fill="#c678f2"/>
<circle cx="74.44" cy="227.69" r="0.85" fill="#c678f2"/>
<circle cx="77.7" cy="224.99" r="0.85" fill="#c678f2"/>
<circle cx="80.97" cy="227.35" r="0.85" fill="#c678f2"/>
<circle cx="84.23" cy="226.34" r="0.85" fill="#c678f2"/>
<circle cx="87.5" cy="220.95" r="0.85" fill="#c678f2"/>
<circle cx="90.76" cy="219.94" r="0.85" fill="#c678f2"/>
<circle cx="94.03" cy="216.57" r="0.85" fill="#c678f2"/>
<circle cx="97.29" cy="211.51" r="0.85" fill="#c678f2"/>
<circle cx="100.56" cy="203.08" r="0.85" fill="#c678f2"/>
<circle cx="103.82" cy="204.77" r="0.85" fill="#c678f2"/>
<circle cx="107.09" cy="199.37" r="0.85" fill="#c678f2"/>
<circle cx="110.35" cy="200.05" r="0.85" fill="#c678f2"/>
<circle cx="113.62" cy="200.38" r="0.85" fill="#c678f2"/>
<circle cx="116.88" cy="196.34" r="0.85" fill="#c678f2"/>
<circle cx="120.15" cy="195.33" r="0.85" fill="#c678f2"/>
<circle cx="123.41" cy="195.67" r="0.85" fill="#c678f2"/>
<circle cx="126.68" cy="196" r="0.85" fill="#c678f2"/>
<circle cx="129.94" cy="195.33" r="0.85" fill="#c678f2"/>
<circle cx="133.21" cy="192.97" r="0.85" fill="#c678f2"/>
<circle cx="136.47" cy="193.64" r="0.85" fill="#c678f2"/>
<circle cx="139.74" cy="190.61" r="0.85" fill="#c678f2"/>
<circle cx="143" cy="193.98" r="0.85" fill="#c678f2"/>
<circle cx="146.27" cy="188.92" r="0.85" fill="#c678f2"/>
<circle cx="149.53" cy="190.61" r="0.85" fill="#c678f2"/>
<circle cx="152.8" cy="192.63" r="0.85" fill="#c678f2"/>
<circle cx="156.06" cy="189.6" r="0.85" fill="#c678f2"/>
<circle cx="159.33" cy="185.89" r="0.85" fill="#c678f2"/>
<circle cx="162.59" cy="183.87" r="0.85" fill="#c678f2"/>
<circle cx="165.86" cy="183.53" r="0.85" fill="#c678f2"/>
<circle cx="169.12" cy="183.53" r="0.85" fill="#c678f2"/>
<circle cx="172.39" cy="183.87" r="0.85" fill="#c678f2"/>
<circle cx="175.65" cy="183.53" r="0.85" fill="#c678f2"/>
<circle cx="178.92" cy="183.53" r="0.85" fill="#c678f2"/>
<circle cx="182.18" cy="183.53" r="0.85" fill="#c678f2"/>
<circle cx="185.45" cy="184.54" r="0.85" fill="#c678f2"/>
<circle cx="188.71" cy="186.06" r="0.85" fill="#c678f2"/>
<circle cx="191.98" cy="182.86" r="0.85" fill="#c678f2"/>
<circle cx="195.24" cy="180.83" r="0.85" fill="#c678f2"/>
<circle cx="198.51" cy="183.53" r="0.85" fill="#c678f2"/>
<circle cx="201.77" cy="180.83" r="0.85" fill="#c678f2"/>
<circle cx="205.04" cy="184.88" r="0.85" fill="#c678f2"/>
<circle cx="208.3" cy="181.51" r="0.85" fill="#c678f2"/>
<circle cx="211.57" cy="183.53" r="0.85" fill="#c678f2"/>
<rect x="17.3" y="169" width="43" height="19" fill="#fff" stroke="#e6e6e6" stroke-width="0.6"/>
<line x1="27.2" y1="174.5" x2="30.8" y2="174.5" stroke="#48688c" stroke-width="1.25"/>
<text x="31.8" y="175.55" font-size="3.0" fill="#222" stroke="#222" stroke-width="0.03" font-family='"Liberation Sans", sans-serif'>Actual Value</text>
<line x1="27.2" y1="183.8" x2="30.8" y2="183.8" stroke="#dfa6f8" stroke-width="1.25"/>
<circle cx="29" cy="183.8" r="0.85" fill="#dfa6f8"/>
<text x="31.8" y="184.85" font-size="3.0" fill="#222" stroke="#222" stroke-width="0.03" font-family='"Liberation Sans", sans-serif'>IPSO-LSSVM</text>
<text x="111.98" y="292.1" font-size="5.0" fill="#222" stroke="#222" stroke-width="0.08" text-anchor="middle" font-family='"Liberation Serif", serif'>Samples</text>
<text transform="translate(6.8,223.91) rotate(-90)" font-size="5.1" fill="#222" stroke="#222" stroke-width="0.08" text-anchor="middle" font-family='"Liberation Serif", serif'>Product Concentration P(g/L)</text>
<text x="108.3" y="311.1" font-size="9.6" fill="#000" text-anchor="middle" font-family='"Liberation Serif", serif'>(<tspan font-weight="bold">c</tspan>)</text>
<line x1="262.2" y1="165.1" x2="262.2" y2="281.3" stroke="#f5f5f5" stroke-width="0.45"/>
<line x1="295" y1="165.1" x2="295" y2="281.3" stroke="#f5f5f5" stroke-width="0.45"/>
<line x1="327.8" y1="165.1" x2="327.8" y2="281.3" stroke="#f5f5f5" stroke-width="0.45"/>
<line x1="360.6" y1="165.1" x2="360.6" y2="281.3" stroke="#f5f5f5" stroke-width="0.45"/>
<line x1="393.4" y1="165.1" x2="393.4" y2="281.3" stroke="#f5f5f5" stroke-width="0.45"/>
<line x1="426.2" y1="165.1" x2="426.2" y2="281.3" stroke="#f5f5f5" stroke-width="0.45"/>
<line x1="459" y1="165.1" x2="459" y2="281.3" stroke="#f5f5f5" stroke-width="0.45"/>
<line x1="262.2" y1="281.3" x2="462.28" y2="281.3" stroke="#f5f5f5" stroke-width="0.45"/>
<line x1="262.2" y1="264.7" x2="462.28" y2="264.7" stroke="#f5f5f5" stroke-width="0.45"/>
<line x1="262.2" y1="248.1" x2="462.28" y2="248.1" stroke="#f5f5f5" stroke-width="0.45"/>
<line x1="262.2" y1="231.5" x2="462.28" y2="231.5" stroke="#f5f5f5" stroke-width="0.45"/>
<line x1="262.2" y1="214.9" x2="462.28" y2="214.9" stroke="#f5f5f5" stroke-width="0.45"/>
<line x1="262.2" y1="198.3" x2="462.28" y2="198.3" stroke="#f5f5f5" stroke-width="0.45"/>
<line x1="262.2" y1="181.7" x2="462.28" y2="181.7" stroke="#f5f5f5" stroke-width="0.45"/>
<line x1="262.2" y1="165.1" x2="462.28" y2="165.1" stroke="#f5f5f5" stroke-width="0.45"/>
<rect x="262.2" y="165.1" width="200.08" height="116.2" fill="none" stroke="#e2e2e2" stroke-width="0.6"/>
<line x1="262.2" y1="281.3" x2="262.2" y2="279.5" stroke="#d8d8d8" stroke-width="0.6"/>
<line x1="262.2" y1="165.1" x2="262.2" y2="166.9" stroke="#d8d8d8" stroke-width="0.6"/>
<line x1="295" y1="281.3" x2="295" y2="279.5" stroke="#d8d8d8" stroke-width="0.6"/>
<line x1="295" y1="165.1" x2="295" y2="166.9" stroke="#d8d8d8" stroke-width="0.6"/>
<line x1="327.8" y1="281.3" x2="327.8" y2="279.5" stroke="#d8d8d8" stroke-width="0.6"/>
<line x1="327.8" y1="165.1" x2="327.8" y2="166.9" stroke="#d8d8d8" stroke-width="0.6"/>
<line x1="360.6" y1="281.3" x2="360.6" y2="279.5" stroke="#d8d8d8" stroke-width="0.6"/>
<line x1="360.6" y1="165.1" x2="360.6" y2="166.9" stroke="#d8d8d8" stroke-width="0.6"/>
<line x1="393.4" y1="281.3" x2="393.4" y2="279.5" stroke="#d8d8d8" stroke-width="0.6"/>
<line x1="393.4" y1="165.1" x2="393.4" y2="166.9" stroke="#d8d8d8" stroke-width="0.6"/>
<line x1="426.2" y1="281.3" x2="426.2" y2="279.5" stroke="#d8d8d8" stroke-width="0.6"/>
<line x1="426.2" y1="165.1" x2="426.2" y2="166.9" stroke="#d8d8d8" stroke-width="0.6"/>
<line x1="459" y1="281.3" x2="459" y2="279.5" stroke="#d8d8d8" stroke-width="0.6"/>
<line x1="459" y1="165.1" x2="459" y2="166.9" stroke="#d8d8d8" stroke-width="0.6"/>
<line x1="262.2" y1="281.3" x2="264" y2="281.3" stroke="#d8d8d8" stroke-width="0.6"/>
<line x1="462.28" y1="281.3" x2="460.48" y2="281.3" stroke="#d8d8d8" stroke-width="0.6"/>
<line x1="262.2" y1="264.7" x2="264" y2="264.7" stroke="#d8d8d8" stroke-width="0.6"/>
<line x1="462.28" y1="264.7" x2="460.48" y2="264.7" stroke="#d8d8d8" stroke-width="0.6"/>
<line x1="262.2" y1="248.1" x2="264" y2="248.1" stroke="#d8d8d8" stroke-width="0.6"/>
<line x1="462.28" y1="248.1" x2="460.48" y2="248.1" stroke="#d8d8d8" stroke-width="0.6"/>
<line x1="262.2" y1="231.5" x2="264" y2="231.5" stroke="#d8d8d8" stroke-width="0.6"/>
<line x1="462.28" y1="231.5" x2="460.48" y2="231.5" stroke="#d8d8d8" stroke-width="0.6"/>
<line x1="262.2" y1="214.9" x2="264" y2="214.9" stroke="#d8d8d8" stroke-width="0.6"/>
<line x1="462.28" y1="214.9" x2="460.48" y2="214.9" stroke="#d8d8d8" stroke-width="0.6"/>
<line x1="262.2" y1="198.3" x2="264" y2="198.3" stroke="#d8d8d8" stroke-width="0.6"/>
<line x1="462.28" y1="198.3" x2="460.48" y2="198.3" stroke="#d8d8d8" stroke-width="0.6"/>
<line x1="262.2" y1="181.7" x2="264" y2="181.7" stroke="#d8d8d8" stroke-width="0.6"/>
<line x1="462.28" y1="181.7" x2="460.48" y2="181.7" stroke="#d8d8d8" stroke-width="0.6"/>
<line x1="262.2" y1="165.1" x2="264" y2="165.1" stroke="#d8d8d8" stroke-width="0.6"/>
<line x1="462.28" y1="165.1" x2="460.48" y2="165.1" stroke="#d8d8d8" stroke-width="0.6"/>
<text x="262.2" y="286.7" font-size="3.1" fill="#555" text-anchor="middle" font-family='"Liberation Serif", serif'>0</text>
<text x="295" y="286.7" font-size="3.1" fill="#555" text-anchor="middle" font-family='"Liberation Serif", serif'>10</text>
<text x="327.8" y="286.7" font-size="3.1" fill="#555" text-anchor="middle" font-family='"Liberation Serif", serif'>20</text>
<text x="360.6" y="286.7" font-size="3.1" fill="#555" text-anchor="middle" font-family='"Liberation Serif", serif'>30</text>
<text x="393.4" y="286.7" font-size="3.1" fill="#555" text-anchor="middle" font-family='"Liberation Serif", serif'>40</text>
<text x="426.2" y="286.7" font-size="3.1" fill="#555" text-anchor="middle" font-family='"Liberation Serif", serif'>50</text>
<text x="459" y="286.7" font-size="3.1" fill="#555" text-anchor="middle" font-family='"Liberation Serif", serif'>60</text>
<text x="261.2" y="283.22" font-size="3.1" fill="#555" text-anchor="end" font-family='"Liberation Serif", serif'>0</text>
<text x="261.2" y="266.62" font-size="3.1" fill="#555" text-anchor="end" font-family='"Liberation Serif", serif'>0.5</text>
<text x="261.2" y="250.02" font-size="3.1" fill="#555" text-anchor="end" font-family='"Liberation Serif", serif'>1</text>
<text x="261.2" y="233.42" font-size="3.1" fill="#555" text-anchor="end" font-family='"Liberation Serif", serif'>1.5</text>
<text x="261.2" y="216.82" font-size="3.1" fill="#555" text-anchor="end" font-family='"Liberation Serif", serif'>2</text>
<text x="261.2" y="200.22" font-size="3.1" fill="#555" text-anchor="end" font-family='"Liberation Serif", serif'>2.5</text>
<text x="261.2" y="183.62" font-size="3.1" fill="#555" text-anchor="end" font-family='"Liberation Serif", serif'>3</text>
<text x="261.2" y="167.02" font-size="3.1" fill="#555" text-anchor="end" font-family='"Liberation Serif", serif'>3.5</text>
<polyline points="265.48,281.3 268.76,278.64 272.04,275.99 275.32,272.67 278.6,271.01 281.88,269.35 285.16,267.69 288.44,263.04 291.72,258.39 295,253.41 298.28,248.1 301.56,243.45 304.84,240.8 308.12,239.47 311.4,238.47 314.68,236.48 317.96,233.82 321.24,231.17 324.52,228.84 327.8,226.85 331.08,225.86 334.36,224.86 337.64,222.54 340.92,219.88 344.2,217.22 347.48,213.24 350.76,206.6 354.04,202.95 357.32,200.96 360.6,199.63 363.88,198.3 367.16,197.3 370.44,196.31 373.72,195.64 377,194.98 380.28,194.32 383.56,193.82 386.84,193.32 390.12,192.66 393.4,191.99 396.68,191.33 399.96,190.83 403.24,190.33 406.52,189.67 409.8,188.34 413.08,187.34 416.36,187.21 419.64,187.11 422.92,187.01 426.2,186.51 429.48,186.08 432.76,185.68 436.04,185.35 439.32,185.02 442.6,184.69 445.88,184.36 449.16,184.02 452.44,183.86 455.72,183.69 459,183.36 462.28,183.19" fill="none" stroke="#2d6488" stroke-width="1.1" stroke-linejoin="round" stroke-linecap="round" />
<polyline points="265.48,279.64 268.76,278.48 272.04,276.49 275.32,270.68 278.6,271.34 281.88,268.35 285.16,270.01 288.44,262.71 291.72,258.39 295,252.08 298.28,247.44 301.56,242.79 304.84,238.8 308.12,240.8 311.4,239.14 314.68,236.15 317.96,235.48 321.24,232.16 324.52,229.51 327.8,226.85 331.08,227.18 334.36,223.53 337.64,220.54 340.92,219.55 344.2,217.56 347.48,213.24 350.76,205.94 354.04,203.94 357.32,201.95 360.6,200.29 363.88,198.63 367.16,196.64 370.44,194.65 373.72,195.98 377,196.97 380.28,194.98 383.56,193.65 386.84,191.99 390.12,193.65 393.4,191.66 396.68,190 399.96,190.66 403.24,190.33 406.52,190.66 409.8,189 413.08,186.02 416.36,188.34 419.64,187.68 422.92,188.01 426.2,185.68 429.48,185.35 432.76,184.69 436.04,185.35 439.32,185.35 442.6,184.69 445.88,186.02 449.16,184.02 452.44,181.04 455.72,182.03 459,182.03 462.28,181.7" fill="none" stroke="#ee2a5a" stroke-width="1.0" stroke-linejoin="round" stroke-linecap="round" />
<circle cx="265.48" cy="279.64" r="1.0" fill="#ee2a5a"/>
<circle cx="268.76" cy="278.48" r="1.0" fill="#ee2a5a"/>
<circle cx="272.04" cy="276.49" r="1.0" fill="#ee2a5a"/>
<circle cx="275.32" cy="270.68" r="1.0" fill="#ee2a5a"/>
<circle cx="278.6" cy="271.34" r="1.0" fill="#ee2a5a"/>
<circle cx="281.88" cy="268.35" r="1.0" fill="#ee2a5a"/>
<circle cx="285.16" cy="270.01" r="1.0" fill="#ee2a5a"/>
<circle cx="288.44" cy="262.71" r="1.0" fill="#ee2a5a"/>
<circle cx="291.72" cy="258.39" r="1.0" fill="#ee2a5a"/>
<circle cx="295" cy="252.08" r="1.0" fill="#ee2a5a"/>
<circle cx="298.28" cy="247.44" r="1.0" fill="#ee2a5a"/>
<circle cx="301.56" cy="242.79" r="1.0" fill="#ee2a5a"/>
<circle cx="304.84" cy="238.8" r="1.0" fill="#ee2a5a"/>
<circle cx="308.12" cy="240.8" r="1.0" fill="#ee2a5a"/>
<circle cx="311.4" cy="239.14" r="1.0" fill="#ee2a5a"/>
<circle cx="314.68" cy="236.15" r="1.0" fill="#ee2a5a"/>
<circle cx="317.96" cy="235.48" r="1.0" fill="#ee2a5a"/>
<circle cx="321.24" cy="232.16" r="1.0" fill="#ee2a5a"/>
<circle cx="324.52" cy="229.51" r="1.0" fill="#ee2a5a"/>
<circle cx="327.8" cy="226.85" r="1.0" fill="#ee2a5a"/>
<circle cx="331.08" cy="227.18" r="1.0" fill="#ee2a5a"/>
<circle cx="334.36" cy="223.53" r="1.0" fill="#ee2a5a"/>
<circle cx="337.64" cy="220.54" r="1.0" fill="#ee2a5a"/>
<circle cx="340.92" cy="219.55" r="1.0" fill="#ee2a5a"/>
<circle cx="344.2" cy="217.56" r="1.0" fill="#ee2a5a"/>
<circle cx="347.48" cy="213.24" r="1.0" fill="#ee2a5a"/>
<circle cx="350.76" cy="205.94" r="1.0" fill="#ee2a5a"/>
<circle cx="354.04" cy="203.94" r="1.0" fill="#ee2a5a"/>
<circle cx="357.32" cy="201.95" r="1.0" fill="#ee2a5a"/>
<circle cx="360.6" cy="200.29" r="1.0" fill="#ee2a5a"/>
<circle cx="363.88" cy="198.63" r="1.0" fill="#ee2a5a"/>
<circle cx="367.16" cy="196.64" r="1.0" fill="#ee2a5a"/>
<circle cx="370.44" cy="194.65" r="1.0" fill="#ee2a5a"/>
<circle cx="373.72" cy="195.98" r="1.0" fill="#ee2a5a"/>
<circle cx="377" cy="196.97" r="1.0" fill="#ee2a5a"/>
<circle cx="380.28" cy="194.98" r="1.0" fill="#ee2a5a"/>
<circle cx="383.56" cy="193.65" r="1.0" fill="#ee2a5a"/>
<circle cx="386.84" cy="191.99" r="1.0" fill="#ee2a5a"/>
<circle cx="390.12" cy="193.65" r="1.0" fill="#ee2a5a"/>
<circle cx="393.4" cy="191.66" r="1.0" fill="#ee2a5a"/>
<circle cx="396.68" cy="190" r="1.0" fill="#ee2a5a"/>
<circle cx="399.96" cy="190.66" r="1.0" fill="#ee2a5a"/>
<circle cx="403.24" cy="190.33" r="1.0" fill="#ee2a5a"/>
<circle cx="406.52" cy="190.66" r="1.0" fill="#ee2a5a"/>
<circle cx="409.8" cy="189" r="1.0" fill="#ee2a5a"/>
<circle cx="413.08" cy="186.02" r="1.0" fill="#ee2a5a"/>
<circle cx="416.36" cy="188.34" r="1.0" fill="#ee2a5a"/>
<circle cx="419.64" cy="187.68" r="1.0" fill="#ee2a5a"/>
<circle cx="422.92" cy="188.01" r="1.0" fill="#ee2a5a"/>
<circle cx="426.2" cy="185.68" r="1.0" fill="#ee2a5a"/>
<circle cx="429.48" cy="185.35" r="1.0" fill="#ee2a5a"/>
<circle cx="432.76" cy="184.69" r="1.0" fill="#ee2a5a"/>
<circle cx="436.04" cy="185.35" r="1.0" fill="#ee2a5a"/>
<circle cx="439.32" cy="185.35" r="1.0" fill="#ee2a5a"/>
<circle cx="442.6" cy="184.69" r="1.0" fill="#ee2a5a"/>
<circle cx="445.88" cy="186.02" r="1.0" fill="#ee2a5a"/>
<circle cx="449.16" cy="184.02" r="1.0" fill="#ee2a5a"/>
<circle cx="452.44" cy="181.04" r="1.0" fill="#ee2a5a"/>
<circle cx="455.72" cy="182.03" r="1.0" fill="#ee2a5a"/>
<circle cx="459" cy="182.03" r="1.0" fill="#ee2a5a"/>
<circle cx="462.28" cy="181.7" r="1.0" fill="#ee2a5a"/>
<rect x="268.7" y="171.3" width="43.7" height="19.4" fill="#fff" stroke="#e6e6e6" stroke-width="0.6"/>
<line x1="275" y1="176.5" x2="278.6" y2="176.5" stroke="#2d6488" stroke-width="1.1"/>
<text x="279.2" y="177.59" font-size="3.1" fill="#333" font-family='"Liberation Sans", sans-serif'>Actual Value</text>
<line x1="275" y1="185.9" x2="278.6" y2="185.9" stroke="#ee2a5a" stroke-width="1.1"/>
<circle cx="276.8" cy="185.9" r="1.0" fill="#ee2a5a"/>
<text x="279.2" y="186.99" font-size="3.1" fill="#333" font-family='"Liberation Sans", sans-serif'>BDA-IPSO-LSSVM</text>
<text x="362.24" y="291.1" font-size="5.0" fill="#222" stroke="#222" stroke-width="0.08" text-anchor="middle" font-family='"Liberation Serif", serif'>Samples</text>
<text transform="translate(256.1,223.8) rotate(-90)" font-size="5.1" fill="#222" stroke="#222" stroke-width="0.08" text-anchor="middle" font-family='"Liberation Serif", serif'>Product Concentration P(g/L)</text>
<text x="357.8" y="311" font-size="9.6" fill="#000" text-anchor="middle" font-family='"Liberation Serif", serif'>(<tspan font-weight="bold">d</tspan>)</text>
<rect x="55.75" y="323.79" width="369.05" height="186.51" fill="none" stroke="#dadada" stroke-width="0.8"/>
<line x1="55.75" y1="510.3" x2="55.75" y2="506.7" stroke="#c8c8c8" stroke-width="0.8"/>
<line x1="55.75" y1="323.79" x2="55.75" y2="327.39" stroke="#c8c8c8" stroke-width="0.8"/>
<line x1="116.25" y1="510.3" x2="116.25" y2="506.7" stroke="#c8c8c8" stroke-width="0.8"/>
<line x1="116.25" y1="323.79" x2="116.25" y2="327.39" stroke="#c8c8c8" stroke-width="0.8"/>
<line x1="176.75" y1="510.3" x2="176.75" y2="506.7" stroke="#c8c8c8" stroke-width="0.8"/>
<line x1="176.75" y1="323.79" x2="176.75" y2="327.39" stroke="#c8c8c8" stroke-width="0.8"/>
<line x1="237.25" y1="510.3" x2="237.25" y2="506.7" stroke="#c8c8c8" stroke-width="0.8"/>
<line x1="237.25" y1="323.79" x2="237.25" y2="327.39" stroke="#c8c8c8" stroke-width="0.8"/>
<line x1="297.75" y1="510.3" x2="297.75" y2="506.7" stroke="#c8c8c8" stroke-width="0.8"/>
<line x1="297.75" y1="323.79" x2="297.75" y2="327.39" stroke="#c8c8c8" stroke-width="0.8"/>
<line x1="358.25" y1="510.3" x2="358.25" y2="506.7" stroke="#c8c8c8" stroke-width="0.8"/>
<line x1="358.25" y1="323.79" x2="358.25" y2="327.39" stroke="#c8c8c8" stroke-width="0.8"/>
<line x1="418.75" y1="510.3" x2="418.75" y2="506.7" stroke="#c8c8c8" stroke-width="0.8"/>
<line x1="418.75" y1="323.79" x2="418.75" y2="327.39" stroke="#c8c8c8" stroke-width="0.8"/>
<line x1="55.75" y1="510.3" x2="59.35" y2="510.3" stroke="#c8c8c8" stroke-width="0.8"/>
<line x1="424.8" y1="510.3" x2="421.2" y2="510.3" stroke="#c8c8c8" stroke-width="0.8"/>
<line x1="55.75" y1="483.66" x2="59.35" y2="483.66" stroke="#c8c8c8" stroke-width="0.8"/>
<line x1="424.8" y1="483.66" x2="421.2" y2="483.66" stroke="#c8c8c8" stroke-width="0.8"/>
<line x1="55.75" y1="457.01" x2="59.35" y2="457.01" stroke="#c8c8c8" stroke-width="0.8"/>
<line x1="424.8" y1="457.01" x2="421.2" y2="457.01" stroke="#c8c8c8" stroke-width="0.8"/>
<line x1="55.75" y1="430.37" x2="59.35" y2="430.37" stroke="#c8c8c8" stroke-width="0.8"/>
<line x1="424.8" y1="430.37" x2="421.2" y2="430.37" stroke="#c8c8c8" stroke-width="0.8"/>
<line x1="55.75" y1="403.72" x2="59.35" y2="403.72" stroke="#c8c8c8" stroke-width="0.8"/>
<line x1="424.8" y1="403.72" x2="421.2" y2="403.72" stroke="#c8c8c8" stroke-width="0.8"/>
<line x1="55.75" y1="377.08" x2="59.35" y2="377.08" stroke="#c8c8c8" stroke-width="0.8"/>
<line x1="424.8" y1="377.08" x2="421.2" y2="377.08" stroke="#c8c8c8" stroke-width="0.8"/>
<line x1="55.75" y1="350.43" x2="59.35" y2="350.43" stroke="#c8c8c8" stroke-width="0.8"/>
<line x1="424.8" y1="350.43" x2="421.2" y2="350.43" stroke="#c8c8c8" stroke-width="0.8"/>
<line x1="55.75" y1="323.79" x2="59.35" y2="323.79" stroke="#c8c8c8" stroke-width="0.8"/>
<line x1="424.8" y1="323.79" x2="421.2" y2="323.79" stroke="#c8c8c8" stroke-width="0.8"/>
<text x="55.75" y="518" font-size="5.8" fill="#222" text-anchor="middle" font-family='"Liberation Serif", serif'>0</text>
<text x="116.25" y="518" font-size="5.8" fill="#222" text-anchor="middle" font-family='"Liberation Serif", serif'>10</text>
<text x="176.75" y="518" font-size="5.8" fill="#222" text-anchor="middle" font-family='"Liberation Serif", serif'>20</text>
<text x="237.25" y="518" font-size="5.8" fill="#222" text-anchor="middle" font-family='"Liberation Serif", serif'>30</text>
<text x="297.75" y="518" font-size="5.8" fill="#222" text-anchor="middle" font-family='"Liberation Serif", serif'>40</text>
<text x="358.25" y="518" font-size="5.8" fill="#222" text-anchor="middle" font-family='"Liberation Serif", serif'>50</text>
<text x="418.75" y="518" font-size="5.8" fill="#222" text-anchor="middle" font-family='"Liberation Serif", serif'>60</text>
<text x="53.75" y="512.61" font-size="5.8" fill="#222" text-anchor="end" font-family='"Liberation Serif", serif'>0</text>
<text x="53.75" y="485.97" font-size="5.8" fill="#222" text-anchor="end" font-family='"Liberation Serif", serif'>0.5</text>
<text x="53.75" y="459.32" font-size="5.8" fill="#222" text-anchor="end" font-family='"Liberation Serif", serif'>1</text>
<text x="53.75" y="432.68" font-size="5.8" fill="#222" text-anchor="end" font-family='"Liberation Serif", serif'>1.5</text>
<text x="53.75" y="406.03" font-size="5.8" fill="#222" text-anchor="end" font-family='"Liberation Serif", serif'>2</text>
<text x="53.75" y="379.39" font-size="5.8" fill="#222" text-anchor="end" font-family='"Liberation Serif", serif'>2.5</text>
<text x="53.75" y="352.74" font-size="5.8" fill="#222" text-anchor="end" font-family='"Liberation Serif", serif'>3</text>
<text x="53.75" y="326.1" font-size="5.8" fill="#222" text-anchor="end" font-family='"Liberation Serif", serif'>3.5</text>
<polyline points="61.8,510.3 67.85,506.04 73.9,501.77 79.95,496.44 86,493.78 92.05,491.12 98.1,488.45 104.15,480.99 110.2,473.53 116.25,465.54 122.3,457.01 128.35,449.55 134.4,445.29 140.45,443.15 146.5,441.56 152.55,438.36 158.6,434.1 164.65,429.83 170.7,426.1 176.75,422.9 182.8,421.31 188.85,419.71 194.9,415.98 200.95,411.71 207,407.45 213.05,401.06 219.1,390.4 225.15,384.54 231.2,381.34 237.25,379.21 243.3,377.08 249.35,375.48 255.4,373.88 261.45,372.81 267.5,371.75 273.55,370.68 279.6,369.88 285.65,369.08 291.7,368.02 297.75,366.95 303.8,365.88 309.85,365.08 315.9,364.29 321.95,363.22 328,361.09 334.05,359.49 340.1,359.28 346.15,359.12 352.2,358.96 358.25,358.16 364.3,357.46 370.35,356.82 376.4,356.29 382.45,355.76 388.5,355.23 394.55,354.69 400.6,354.16 406.65,353.89 412.7,353.63 418.75,353.09 424.8,352.83" fill="none" stroke="#4c6c8e" stroke-width="1.25" stroke-linejoin="round" stroke-linecap="round" />
<polyline points="61.8,510.3 67.85,506.04 73.9,502.04 79.95,496.18 86,493.78 92.05,490.58 98.1,487.92 104.15,479.92 110.2,473.53 116.25,465 122.3,457.54 128.35,448.48 134.4,450.62 140.45,443.69 146.5,441.56 152.55,436.76 158.6,433.56 164.65,422.37 170.7,423.97 176.75,418.11 182.8,422.9 188.85,420.77 194.9,422.37 200.95,409.58 207,397.33 213.05,397.86 219.1,389.33 225.15,377.61 231.2,392.53 237.25,368.55 243.3,390.93 249.35,376.54 255.4,369.08 261.45,370.68 267.5,372.28 273.55,376.01 279.6,367.48 285.65,357.36 291.7,362.15 297.75,353.63 303.8,377.08 309.85,364.82 315.9,376.01 321.95,361.62 328,355.76 334.05,370.15 340.1,350.96 346.15,362.69 352.2,347.23 358.25,363.75 364.3,370.15 370.35,365.88 376.4,369.61 382.45,341.37 388.5,369.61 394.55,366.42 400.6,369.08 406.65,362.15 412.7,369.08 418.75,348.3 424.8,352.03" fill="none" stroke="#f9b548" stroke-width="0.95" stroke-linejoin="round" stroke-linecap="round" />
<circle cx="61.8" cy="510.3" r="0.85" fill="#f9b548"/>
<circle cx="67.85" cy="506.04" r="0.85" fill="#f9b548"/>
<circle cx="73.9" cy="502.04" r="0.85" fill="#f9b548"/>
<circle cx="79.95" cy="496.18" r="0.85" fill="#f9b548"/>
<circle cx="86" cy="493.78" r="0.85" fill="#f9b548"/>
<circle cx="92.05" cy="490.58" r="0.85" fill="#f9b548"/>
<circle cx="98.1" cy="487.92" r="0.85" fill="#f9b548"/>
<circle cx="104.15" cy="479.92" r="0.85" fill="#f9b548"/>
<circle cx="110.2" cy="473.53" r="0.85" fill="#f9b548"/>
<circle cx="116.25" cy="465" r="0.85" fill="#f9b548"/>
<circle cx="122.3" cy="457.54" r="0.85" fill="#f9b548"/>
<circle cx="128.35" cy="448.48" r="0.85" fill="#f9b548"/>
<circle cx="134.4" cy="450.62" r="0.85" fill="#f9b548"/>
<circle cx="140.45" cy="443.69" r="0.85" fill="#f9b548"/>
<circle cx="146.5" cy="441.56" r="0.85" fill="#f9b548"/>
<circle cx="152.55" cy="436.76" r="0.85" fill="#f9b548"/>
<circle cx="158.6" cy="433.56" r="0.85" fill="#f9b548"/>
<circle cx="164.65" cy="422.37" r="0.85" fill="#f9b548"/>
<circle cx="170.7" cy="423.97" r="0.85" fill="#f9b548"/>
<circle cx="176.75" cy="418.11" r="0.85" fill="#f9b548"/>
<circle cx="182.8" cy="422.9" r="0.85" fill="#f9b548"/>
<circle cx="188.85" cy="420.77" r="0.85" fill="#f9b548"/>
<circle cx="194.9" cy="422.37" r="0.85" fill="#f9b548"/>
<circle cx="200.95" cy="409.58" r="0.85" fill="#f9b548"/>
<circle cx="207" cy="397.33" r="0.85" fill="#f9b548"/>
<circle cx="213.05" cy="397.86" r="0.85" fill="#f9b548"/>
<circle cx="219.1" cy="389.33" r="0.85" fill="#f9b548"/>
<circle cx="225.15" cy="377.61" r="0.85" fill="#f9b548"/>
<circle cx="231.2" cy="392.53" r="0.85" fill="#f9b548"/>
<circle cx="237.25" cy="368.55" r="0.85" fill="#f9b548"/>
<circle cx="243.3" cy="390.93" r="0.85" fill="#f9b548"/>
<circle cx="249.35" cy="376.54" r="0.85" fill="#f9b548"/>
<circle cx="255.4" cy="369.08" r="0.85" fill="#f9b548"/>
<circle cx="261.45" cy="370.68" r="0.85" fill="#f9b548"/>
<circle cx="267.5" cy="372.28" r="0.85" fill="#f9b548"/>
<circle cx="273.55" cy="376.01" r="0.85" fill="#f9b548"/>
<circle cx="279.6" cy="367.48" r="0.85" fill="#f9b548"/>
<circle cx="285.65" cy="357.36" r="0.85" fill="#f9b548"/>
<circle cx="291.7" cy="362.15" r="0.85" fill="#f9b548"/>
<circle cx="297.75" cy="353.63" r="0.85" fill="#f9b548"/>
<circle cx="303.8" cy="377.08" r="0.85" fill="#f9b548"/>
<circle cx="309.85" cy="364.82" r="0.85" fill="#f9b548"/>
<circle cx="315.9" cy="376.01" r="0.85" fill="#f9b548"/>
<circle cx="321.95" cy="361.62" r="0.85" fill="#f9b548"/>
<circle cx="328" cy="355.76" r="0.85" fill="#f9b548"/>
<circle cx="334.05" cy="370.15" r="0.85" fill="#f9b548"/>
<circle cx="340.1" cy="350.96" r="0.85" fill="#f9b548"/>
<circle cx="346.15" cy="362.69" r="0.85" fill="#f9b548"/>
<circle cx="352.2" cy="347.23" r="0.85" fill="#f9b548"/>
<circle cx="358.25" cy="363.75" r="0.85" fill="#f9b548"/>
<circle cx="364.3" cy="370.15" r="0.85" fill="#f9b548"/>
<circle cx="370.35" cy="365.88" r="0.85" fill="#f9b548"/>
<circle cx="376.4" cy="369.61" r="0.85" fill="#f9b548"/>
<circle cx="382.45" cy="341.37" r="0.85" fill="#f9b548"/>
<circle cx="388.5" cy="369.61" r="0.85" fill="#f9b548"/>
<circle cx="394.55" cy="366.42" r="0.85" fill="#f9b548"/>
<circle cx="400.6" cy="369.08" r="0.85" fill="#f9b548"/>
<circle cx="406.65" cy="362.15" r="0.85" fill="#f9b548"/>
<circle cx="412.7" cy="369.08" r="0.85" fill="#f9b548"/>
<circle cx="418.75" cy="348.3" r="0.85" fill="#f9b548"/>
<circle cx="424.8" cy="352.03" r="0.85" fill="#f9b548"/>
<polyline points="61.8,504.17 67.85,507.64 73.9,509.23 79.95,500.71 86,502.84 92.05,490.58 98.1,491.12 104.15,486.32 110.2,471.4 116.25,462.34 122.3,465 128.35,453.28 134.4,449.02 140.45,447.95 146.5,437.29 152.55,434.1 158.6,433.56 164.65,437.29 170.7,433.03 176.75,423.44 182.8,426.63 188.85,426.63 194.9,416.51 200.95,418.64 207,404.25 213.05,406.38 219.1,398.39 225.15,390.4 231.2,389.86 237.25,373.34 243.3,372.81 249.35,379.74 255.4,381.34 261.45,376.01 267.5,374.41 273.55,368.55 279.6,373.88 285.65,363.22 291.7,362.42 297.75,360.56 303.8,370.68 309.85,370.68 315.9,359.49 321.95,369.08 328,368.55 334.05,359.49 340.1,354.16 346.15,363.22 352.2,365.35 358.25,366.42 364.3,353.63 370.35,355.76 376.4,360.02 382.45,354.16 388.5,350.96 394.55,358.42 400.6,350.96 406.65,359.49 412.7,347.23 418.75,348.83 424.8,360.02" fill="none" stroke="#36a6dc" stroke-width="0.95" stroke-linejoin="round" stroke-linecap="round" />
<circle cx="61.8" cy="504.17" r="0.85" fill="#36a6dc"/>
<circle cx="67.85" cy="507.64" r="0.85" fill="#36a6dc"/>
<circle cx="73.9" cy="509.23" r="0.85" fill="#36a6dc"/>
<circle cx="79.95" cy="500.71" r="0.85" fill="#36a6dc"/>
<circle cx="86" cy="502.84" r="0.85" fill="#36a6dc"/>
<circle cx="92.05" cy="490.58" r="0.85" fill="#36a6dc"/>
<circle cx="98.1" cy="491.12" r="0.85" fill="#36a6dc"/>
<circle cx="104.15" cy="486.32" r="0.85" fill="#36a6dc"/>
<circle cx="110.2" cy="471.4" r="0.85" fill="#36a6dc"/>
<circle cx="116.25" cy="462.34" r="0.85" fill="#36a6dc"/>
<circle cx="122.3" cy="465" r="0.85" fill="#36a6dc"/>
<circle cx="128.35" cy="453.28" r="0.85" fill="#36a6dc"/>
<circle cx="134.4" cy="449.02" r="0.85" fill="#36a6dc"/>
<circle cx="140.45" cy="447.95" r="0.85" fill="#36a6dc"/>
<circle cx="146.5" cy="437.29" r="0.85" fill="#36a6dc"/>
<circle cx="152.55" cy="434.1" r="0.85" fill="#36a6dc"/>
<circle cx="158.6" cy="433.56" r="0.85" fill="#36a6dc"/>
<circle cx="164.65" cy="437.29" r="0.85" fill="#36a6dc"/>
<circle cx="170.7" cy="433.03" r="0.85" fill="#36a6dc"/>
<circle cx="176.75" cy="423.44" r="0.85" fill="#36a6dc"/>
<circle cx="182.8" cy="426.63" r="0.85" fill="#36a6dc"/>
<circle cx="188.85" cy="426.63" r="0.85" fill="#36a6dc"/>
<circle cx="194.9" cy="416.51" r="0.85" fill="#36a6dc"/>
<circle cx="200.95" cy="418.64" r="0.85" fill="#36a6dc"/>
<circle cx="207" cy="404.25" r="0.85" fill="#36a6dc"/>
<circle cx="213.05" cy="406.38" r="0.85" fill="#36a6dc"/>
<circle cx="219.1" cy="398.39" r="0.85" fill="#36a6dc"/>
<circle cx="225.15" cy="390.4" r="0.85" fill="#36a6dc"/>
<circle cx="231.2" cy="389.86" r="0.85" fill="#36a6dc"/>
<circle cx="237.25" cy="373.34" r="0.85" fill="#36a6dc"/>
<circle cx="243.3" cy="372.81" r="0.85" fill="#36a6dc"/>
<circle cx="249.35" cy="379.74" r="0.85" fill="#36a6dc"/>
<circle cx="255.4" cy="381.34" r="0.85" fill="#36a6dc"/>
<circle cx="261.45" cy="376.01" r="0.85" fill="#36a6dc"/>
<circle cx="267.5" cy="374.41" r="0.85" fill="#36a6dc"/>
<circle cx="273.55" cy="368.55" r="0.85" fill="#36a6dc"/>
<circle cx="279.6" cy="373.88" r="0.85" fill="#36a6dc"/>
<circle cx="285.65" cy="363.22" r="0.85" fill="#36a6dc"/>
<circle cx="291.7" cy="362.42" r="0.85" fill="#36a6dc"/>
<circle cx="297.75" cy="360.56" r="0.85" fill="#36a6dc"/>
<circle cx="303.8" cy="370.68" r="0.85" fill="#36a6dc"/>
<circle cx="309.85" cy="370.68" r="0.85" fill="#36a6dc"/>
<circle cx="315.9" cy="359.49" r="0.85" fill="#36a6dc"/>
<circle cx="321.95" cy="369.08" r="0.85" fill="#36a6dc"/>
<circle cx="328" cy="368.55" r="0.85" fill="#36a6dc"/>
<circle cx="334.05" cy="359.49" r="0.85" fill="#36a6dc"/>
<circle cx="340.1" cy="354.16" r="0.85" fill="#36a6dc"/>
<circle cx="346.15" cy="363.22" r="0.85" fill="#36a6dc"/>
<circle cx="352.2" cy="365.35" r="0.85" fill="#36a6dc"/>
<circle cx="358.25" cy="366.42" r="0.85" fill="#36a6dc"/>
<circle cx="364.3" cy="353.63" r="0.85" fill="#36a6dc"/>
<circle cx="370.35" cy="355.76" r="0.85" fill="#36a6dc"/>
<circle cx="376.4" cy="360.02" r="0.85" fill="#36a6dc"/>
<circle cx="382.45" cy="354.16" r="0.85" fill="#36a6dc"/>
<circle cx="388.5" cy="350.96" r="0.85" fill="#36a6dc"/>
<circle cx="394.55" cy="358.42" r="0.85" fill="#36a6dc"/>
<circle cx="400.6" cy="350.96" r="0.85" fill="#36a6dc"/>
<circle cx="406.65" cy="359.49" r="0.85" fill="#36a6dc"/>
<circle cx="412.7" cy="347.23" r="0.85" fill="#36a6dc"/>
<circle cx="418.75" cy="348.83" r="0.85" fill="#36a6dc"/>
<circle cx="424.8" cy="360.02" r="0.85" fill="#36a6dc"/>
<polyline points="61.8,508.7 67.85,504.44 73.9,496.44 79.95,495.91 86,492.18 92.05,488.98 98.1,483.12 104.15,482.59 110.2,473.53 116.25,466.07 122.3,457.01 128.35,448.48 134.4,444.22 140.45,439.42 146.5,441.02 152.55,437.29 158.6,430.37 164.65,426.63 170.7,423.97 176.75,419.71 182.8,423.44 188.85,421.84 194.9,413.31 200.95,411.71 207,406.38 213.05,398.39 219.1,385.07 225.15,387.73 231.2,379.21 237.25,380.27 243.3,380.81 249.35,374.41 255.4,372.81 261.45,373.34 267.5,373.88 273.55,372.81 279.6,369.08 285.65,370.15 291.7,365.35 297.75,370.68 303.8,362.69 309.85,365.35 315.9,368.55 321.95,363.75 328,357.89 334.05,354.69 340.1,354.16 346.15,354.16 352.2,354.69 358.25,354.16 364.3,354.16 370.35,354.16 376.4,355.76 382.45,358.16 388.5,353.09 394.55,349.9 400.6,354.16 406.65,349.9 412.7,356.29 418.75,350.96 424.8,354.16" fill="none" stroke="#dea8f7" stroke-width="0.95" stroke-linejoin="round" stroke-linecap="round" />
<circle cx="61.8" cy="508.7" r="0.85" fill="#dea8f7"/>
<circle cx="67.85" cy="504.44" r="0.85" fill="#dea8f7"/>
<circle cx="73.9" cy="496.44" r="0.85" fill="#dea8f7"/>
<circle cx="79.95" cy="495.91" r="0.85" fill="#dea8f7"/>
<circle cx="86" cy="492.18" r="0.85" fill="#dea8f7"/>
<circle cx="92.05" cy="488.98" r="0.85" fill="#dea8f7"/>
<circle cx="98.1" cy="483.12" r="0.85" fill="#dea8f7"/>
<circle cx="104.15" cy="482.59" r="0.85" fill="#dea8f7"/>
<circle cx="110.2" cy="473.53" r="0.85" fill="#dea8f7"/>
<circle cx="116.25" cy="466.07" r="0.85" fill="#dea8f7"/>
<circle cx="122.3" cy="457.01" r="0.85" fill="#dea8f7"/>
<circle cx="128.35" cy="448.48" r="0.85" fill="#dea8f7"/>
<circle cx="134.4" cy="444.22" r="0.85" fill="#dea8f7"/>
<circle cx="140.45" cy="439.42" r="0.85" fill="#dea8f7"/>
<circle cx="146.5" cy="441.02" r="0.85" fill="#dea8f7"/>
<circle cx="152.55" cy="437.29" r="0.85" fill="#dea8f7"/>
<circle cx="158.6" cy="430.37" r="0.85" fill="#dea8f7"/>
<circle cx="164.65" cy="426.63" r="0.85" fill="#dea8f7"/>
<circle cx="170.7" cy="423.97" r="0.85" fill="#dea8f7"/>
<circle cx="176.75" cy="419.71" r="0.85" fill="#dea8f7"/>
<circle cx="182.8" cy="423.44" r="0.85" fill="#dea8f7"/>
<circle cx="188.85" cy="421.84" r="0.85" fill="#dea8f7"/>
<circle cx="194.9" cy="413.31" r="0.85" fill="#dea8f7"/>
<circle cx="200.95" cy="411.71" r="0.85" fill="#dea8f7"/>
<circle cx="207" cy="406.38" r="0.85" fill="#dea8f7"/>
<circle cx="213.05" cy="398.39" r="0.85" fill="#dea8f7"/>
<circle cx="219.1" cy="385.07" r="0.85" fill="#dea8f7"/>
<circle cx="225.15" cy="387.73" r="0.85" fill="#dea8f7"/>
<circle cx="231.2" cy="379.21" r="0.85" fill="#dea8f7"/>
<circle cx="237.25" cy="380.27" r="0.85" fill="#dea8f7"/>
<circle cx="243.3" cy="380.81" r="0.85" fill="#dea8f7"/>
<circle cx="249.35" cy="374.41" r="0.85" fill="#dea8f7"/>
<circle cx="255.4" cy="372.81" r="0.85" fill="#dea8f7"/>
<circle cx="261.45" cy="373.34" r="0.85" fill="#dea8f7"/>
<circle cx="267.5" cy="373.88" r="0.85" fill="#dea8f7"/>
<circle cx="273.55" cy="372.81" r="0.85" fill="#dea8f7"/>
<circle cx="279.6" cy="369.08" r="0.85" fill="#dea8f7"/>
<circle cx="285.65" cy="370.15" r="0.85" fill="#dea8f7"/>
<circle cx="291.7" cy="365.35" r="0.85" fill="#dea8f7"/>
<circle cx="297.75" cy="370.68" r="0.85" fill="#dea8f7"/>
<circle cx="303.8" cy="362.69" r="0.85" fill="#dea8f7"/>
<circle cx="309.85" cy="365.35" r="0.85" fill="#dea8f7"/>
<circle cx="315.9" cy="368.55" r="0.85" fill="#dea8f7"/>
<circle cx="321.95" cy="363.75" r="0.85" fill="#dea8f7"/>
<circle cx="328" cy="357.89" r="0.85" fill="#dea8f7"/>
<circle cx="334.05" cy="354.69" r="0.85" fill="#dea8f7"/>
<circle cx="340.1" cy="354.16" r="0.85" fill="#dea8f7"/>
<circle cx="346.15" cy="354.16" r="0.85" fill="#dea8f7"/>
<circle cx="352.2" cy="354.69" r="0.85" fill="#dea8f7"/>
<circle cx="358.25" cy="354.16" r="0.85" fill="#dea8f7"/>
<circle cx="364.3" cy="354.16" r="0.85" fill="#dea8f7"/>
<circle cx="370.35" cy="354.16" r="0.85" fill="#dea8f7"/>
<circle cx="376.4" cy="355.76" r="0.85" fill="#dea8f7"/>
<circle cx="382.45" cy="358.16" r="0.85" fill="#dea8f7"/>
<circle cx="388.5" cy="353.09" r="0.85" fill="#dea8f7"/>
<circle cx="394.55" cy="349.9" r="0.85" fill="#dea8f7"/>
<circle cx="400.6" cy="354.16" r="0.85" fill="#dea8f7"/>
<circle cx="406.65" cy="349.9" r="0.85" fill="#dea8f7"/>
<circle cx="412.7" cy="356.29" r="0.85" fill="#dea8f7"/>
<circle cx="418.75" cy="350.96" r="0.85" fill="#dea8f7"/>
<circle cx="424.8" cy="354.16" r="0.85" fill="#dea8f7"/>
<polyline points="61.8,507.64 67.85,505.77 73.9,502.57 79.95,493.25 86,494.31 92.05,489.52 98.1,492.18 104.15,480.46 110.2,473.53 116.25,463.4 122.3,455.94 128.35,448.48 134.4,442.09 140.45,445.29 146.5,442.62 152.55,437.83 158.6,436.76 164.65,431.43 170.7,427.17 176.75,422.9 182.8,423.44 188.85,417.58 194.9,412.78 200.95,411.18 207,407.98 213.05,401.06 219.1,389.33 225.15,386.13 231.2,382.94 237.25,380.27 243.3,377.61 249.35,374.41 255.4,371.21 261.45,373.34 267.5,374.94 273.55,371.75 279.6,369.61 285.65,366.95 291.7,369.61 297.75,366.42 303.8,363.75 309.85,364.82 315.9,364.29 321.95,364.82 328,362.15 334.05,357.36 340.1,361.09 346.15,360.02 352.2,360.56 358.25,356.82 364.3,356.29 370.35,355.23 376.4,356.29 382.45,356.29 388.5,355.23 394.55,357.36 400.6,354.16 406.65,349.36 412.7,350.96 418.75,350.96 424.8,350.43" fill="none" stroke="#f0416f" stroke-width="0.95" stroke-linejoin="round" stroke-linecap="round" />
<circle cx="61.8" cy="507.64" r="0.85" fill="#f0416f"/>
<circle cx="67.85" cy="505.77" r="0.85" fill="#f0416f"/>
<circle cx="73.9" cy="502.57" r="0.85" fill="#f0416f"/>
<circle cx="79.95" cy="493.25" r="0.85" fill="#f0416f"/>
<circle cx="86" cy="494.31" r="0.85" fill="#f0416f"/>
<circle cx="92.05" cy="489.52" r="0.85" fill="#f0416f"/>
<circle cx="98.1" cy="492.18" r="0.85" fill="#f0416f"/>
<circle cx="104.15" cy="480.46" r="0.85" fill="#f0416f"/>
<circle cx="110.2" cy="473.53" r="0.85" fill="#f0416f"/>
<circle cx="116.25" cy="463.4" r="0.85" fill="#f0416f"/>
<circle cx="122.3" cy="455.94" r="0.85" fill="#f0416f"/>
<circle cx="128.35" cy="448.48" r="0.85" fill="#f0416f"/>
<circle cx="134.4" cy="442.09" r="0.85" fill="#f0416f"/>
<circle cx="140.45" cy="445.29" r="0.85" fill="#f0416f"/>
<circle cx="146.5" cy="442.62" r="0.85" fill="#f0416f"/>
<circle cx="152.55" cy="437.83" r="0.85" fill="#f0416f"/>
<circle cx="158.6" cy="436.76" r="0.85" fill="#f0416f"/>
<circle cx="164.65" cy="431.43" r="0.85" fill="#f0416f"/>
<circle cx="170.7" cy="427.17" r="0.85" fill="#f0416f"/>
<circle cx="176.75" cy="422.9" r="0.85" fill="#f0416f"/>
<circle cx="182.8" cy="423.44" r="0.85" fill="#f0416f"/>
<circle cx="188.85" cy="417.58" r="0.85" fill="#f0416f"/>
<circle cx="194.9" cy="412.78" r="0.85" fill="#f0416f"/>
<circle cx="200.95" cy="411.18" r="0.85" fill="#f0416f"/>
<circle cx="207" cy="407.98" r="0.85" fill="#f0416f"/>
<circle cx="213.05" cy="401.06" r="0.85" fill="#f0416f"/>
<circle cx="219.1" cy="389.33" r="0.85" fill="#f0416f"/>
<circle cx="225.15" cy="386.13" r="0.85" fill="#f0416f"/>
<circle cx="231.2" cy="382.94" r="0.85" fill="#f0416f"/>
<circle cx="237.25" cy="380.27" r="0.85" fill="#f0416f"/>
<circle cx="243.3" cy="377.61" r="0.85" fill="#f0416f"/>
<circle cx="249.35" cy="374.41" r="0.85" fill="#f0416f"/>
<circle cx="255.4" cy="371.21" r="0.85" fill="#f0416f"/>
<circle cx="261.45" cy="373.34" r="0.85" fill="#f0416f"/>
<circle cx="267.5" cy="374.94" r="0.85" fill="#f0416f"/>
<circle cx="273.55" cy="371.75" r="0.85" fill="#f0416f"/>
<circle cx="279.6" cy="369.61" r="0.85" fill="#f0416f"/>
<circle cx="285.65" cy="366.95" r="0.85" fill="#f0416f"/>
<circle cx="291.7" cy="369.61" r="0.85" fill="#f0416f"/>
<circle cx="297.75" cy="366.42" r="0.85" fill="#f0416f"/>
<circle cx="303.8" cy="363.75" r="0.85" fill="#f0416f"/>
<circle cx="309.85" cy="364.82" r="0.85" fill="#f0416f"/>
<circle cx="315.9" cy="364.29" r="0.85" fill="#f0416f"/>
<circle cx="321.95" cy="364.82" r="0.85" fill="#f0416f"/>
<circle cx="328" cy="362.15" r="0.85" fill="#f0416f"/>
<circle cx="334.05" cy="357.36" r="0.85" fill="#f0416f"/>
<circle cx="340.1" cy="361.09" r="0.85" fill="#f0416f"/>
<circle cx="346.15" cy="360.02" r="0.85" fill="#f0416f"/>
<circle cx="352.2" cy="360.56" r="0.85" fill="#f0416f"/>
<circle cx="358.25" cy="356.82" r="0.85" fill="#f0416f"/>
<circle cx="364.3" cy="356.29" r="0.85" fill="#f0416f"/>
<circle cx="370.35" cy="355.23" r="0.85" fill="#f0416f"/>
<circle cx="376.4" cy="356.29" r="0.85" fill="#f0416f"/>
<circle cx="382.45" cy="356.29" r="0.85" fill="#f0416f"/>
<circle cx="388.5" cy="355.23" r="0.85" fill="#f0416f"/>
<circle cx="394.55" cy="357.36" r="0.85" fill="#f0416f"/>
<circle cx="400.6" cy="354.16" r="0.85" fill="#f0416f"/>
<circle cx="406.65" cy="349.36" r="0.85" fill="#f0416f"/>
<circle cx="412.7" cy="350.96" r="0.85" fill="#f0416f"/>
<circle cx="418.75" cy="350.96" r="0.85" fill="#f0416f"/>
<circle cx="424.8" cy="350.43" r="0.85" fill="#f0416f"/>
<rect x="68.5" y="331.6" width="99.7" height="43.8" fill="#fff" stroke="#d8d8d8" stroke-width="0.6"/>
<line x1="90.3" y1="336.8" x2="96.8" y2="336.8" stroke="#4c6c8e" stroke-width="0.9"/>
<text x="98" y="338.9" font-size="6.0" fill="#000" stroke="#000" stroke-width="0.08" font-family='"Liberation Serif", serif'>Actual Value</text>
<line x1="90.3" y1="345.3" x2="96.8" y2="345.3" stroke="#f9b548" stroke-width="0.9"/>
<circle cx="93.55" cy="345.3" r="0.6" fill="#f9b548"/>
<text x="98" y="347.4" font-size="6.0" fill="#000" stroke="#000" stroke-width="0.08" font-family='"Liberation Serif", serif'>LSSVM</text>
<line x1="90.3" y1="353.8" x2="96.8" y2="353.8" stroke="#36a6dc" stroke-width="0.9"/>
<circle cx="93.55" cy="353.8" r="0.6" fill="#36a6dc"/>
<text x="98" y="355.9" font-size="6.0" fill="#000" stroke="#000" stroke-width="0.08" font-family='"Liberation Serif", serif'>PSO-LSSVM</text>
<line x1="90.3" y1="362.3" x2="96.8" y2="362.3" stroke="#dea8f7" stroke-width="0.9"/>
<circle cx="93.55" cy="362.3" r="0.6" fill="#dea8f7"/>
<text x="98" y="364.4" font-size="6.0" fill="#000" stroke="#000" stroke-width="0.08" font-family='"Liberation Serif", serif'>IPSO-LSSVM</text>
<line x1="90.3" y1="370.8" x2="96.8" y2="370.8" stroke="#f0416f" stroke-width="0.9"/>
<circle cx="93.55" cy="370.8" r="0.6" fill="#f0416f"/>
<text x="98" y="372.9" font-size="6.0" fill="#000" stroke="#000" stroke-width="0.08" font-family='"Liberation Serif", serif'>BDA-IPSO-LSSVM</text>
<text x="240.4" y="526.6" font-size="8.9" fill="#111" stroke="#111" stroke-width="0.12" text-anchor="middle" font-family='"Liberation Serif", serif'>Samples</text>
<text transform="translate(44.2,416.9) rotate(-90)" font-size="8.2" fill="#111" stroke="#111" stroke-width="0.12" text-anchor="middle" font-family='"Liberation Serif", serif'>Product Concentration P(g/L)</text>
<text x="233.3" y="545.4" font-size="10.2" fill="#000" stroke="#000" stroke-width="0.1" text-anchor="middle" font-family='"Liberation Serif", serif'>(<tspan font-weight="bold">e</tspan>)</text>
<line x1="323.5" y1="371.5" x2="332.6" y2="405.2" stroke="#555" stroke-width="0.8"/>
<polygon points="333.2,407.4 331.3,403.9 334.0,403.3" fill="#333"/>
<rect x="261.6" y="407.71" width="145.92" height="86.49" fill="#fff"/>
<line x1="277.44" y1="407.71" x2="277.44" y2="494.2" stroke="#efefef" stroke-width="0.5"/>
<line x1="301.44" y1="407.71" x2="301.44" y2="494.2" stroke="#efefef" stroke-width="0.5"/>
<line x1="325.44" y1="407.71" x2="325.44" y2="494.2" stroke="#efefef" stroke-width="0.5"/>
<line x1="349.44" y1="407.71" x2="349.44" y2="494.2" stroke="#efefef" stroke-width="0.5"/>
<line x1="373.44" y1="407.71" x2="373.44" y2="494.2" stroke="#efefef" stroke-width="0.5"/>
<line x1="397.44" y1="407.71" x2="397.44" y2="494.2" stroke="#efefef" stroke-width="0.5"/>
<line x1="261.6" y1="486.46" x2="407.52" y2="486.46" stroke="#efefef" stroke-width="0.5"/>
<line x1="261.6" y1="473.98" x2="407.52" y2="473.98" stroke="#efefef" stroke-width="0.5"/>
<line x1="261.6" y1="461.5" x2="407.52" y2="461.5" stroke="#efefef" stroke-width="0.5"/>
<line x1="261.6" y1="449.02" x2="407.52" y2="449.02" stroke="#efefef" stroke-width="0.5"/>
<line x1="261.6" y1="436.54" x2="407.52" y2="436.54" stroke="#efefef" stroke-width="0.5"/>
<line x1="261.6" y1="424.06" x2="407.52" y2="424.06" stroke="#efefef" stroke-width="0.5"/>
<line x1="261.6" y1="411.58" x2="407.52" y2="411.58" stroke="#efefef" stroke-width="0.5"/>
<rect x="261.6" y="407.71" width="145.92" height="86.49" fill="none" stroke="#d8d8d8" stroke-width="0.8"/>
<line x1="277.44" y1="494.2" x2="277.44" y2="491.6" stroke="#c8c8c8" stroke-width="0.8"/>
<line x1="277.44" y1="407.71" x2="277.44" y2="410.31" stroke="#c8c8c8" stroke-width="0.8"/>
<line x1="301.44" y1="494.2" x2="301.44" y2="491.6" stroke="#c8c8c8" stroke-width="0.8"/>
<line x1="301.44" y1="407.71" x2="301.44" y2="410.31" stroke="#c8c8c8" stroke-width="0.8"/>
<line x1="325.44" y1="494.2" x2="325.44" y2="491.6" stroke="#c8c8c8" stroke-width="0.8"/>
<line x1="325.44" y1="407.71" x2="325.44" y2="410.31" stroke="#c8c8c8" stroke-width="0.8"/>
<line x1="349.44" y1="494.2" x2="349.44" y2="491.6" stroke="#c8c8c8" stroke-width="0.8"/>
<line x1="349.44" y1="407.71" x2="349.44" y2="410.31" stroke="#c8c8c8" stroke-width="0.8"/>
<line x1="373.44" y1="494.2" x2="373.44" y2="491.6" stroke="#c8c8c8" stroke-width="0.8"/>
<line x1="373.44" y1="407.71" x2="373.44" y2="410.31" stroke="#c8c8c8" stroke-width="0.8"/>
<line x1="397.44" y1="494.2" x2="397.44" y2="491.6" stroke="#c8c8c8" stroke-width="0.8"/>
<line x1="397.44" y1="407.71" x2="397.44" y2="410.31" stroke="#c8c8c8" stroke-width="0.8"/>
<line x1="261.6" y1="486.46" x2="264.2" y2="486.46" stroke="#c8c8c8" stroke-width="0.8"/>
<line x1="407.52" y1="486.46" x2="404.92" y2="486.46" stroke="#c8c8c8" stroke-width="0.8"/>
<line x1="261.6" y1="473.98" x2="264.2" y2="473.98" stroke="#c8c8c8" stroke-width="0.8"/>
<line x1="407.52" y1="473.98" x2="404.92" y2="473.98" stroke="#c8c8c8" stroke-width="0.8"/>
<line x1="261.6" y1="461.5" x2="264.2" y2="461.5" stroke="#c8c8c8" stroke-width="0.8"/>
<line x1="407.52" y1="461.5" x2="404.92" y2="461.5" stroke="#c8c8c8" stroke-width="0.8"/>
<line x1="261.6" y1="449.02" x2="264.2" y2="449.02" stroke="#c8c8c8" stroke-width="0.8"/>
<line x1="407.52" y1="449.02" x2="404.92" y2="449.02" stroke="#c8c8c8" stroke-width="0.8"/>
<line x1="261.6" y1="436.54" x2="264.2" y2="436.54" stroke="#c8c8c8" stroke-width="0.8"/>
<line x1="407.52" y1="436.54" x2="404.92" y2="436.54" stroke="#c8c8c8" stroke-width="0.8"/>
<line x1="261.6" y1="424.06" x2="264.2" y2="424.06" stroke="#c8c8c8" stroke-width="0.8"/>
<line x1="407.52" y1="424.06" x2="404.92" y2="424.06" stroke="#c8c8c8" stroke-width="0.8"/>
<line x1="261.6" y1="411.58" x2="264.2" y2="411.58" stroke="#c8c8c8" stroke-width="0.8"/>
<line x1="407.52" y1="411.58" x2="404.92" y2="411.58" stroke="#c8c8c8" stroke-width="0.8"/>
<text x="277.44" y="502.2" font-size="5.8" fill="#222" text-anchor="middle" font-family='"Liberation Serif", serif'>40</text>
<text x="301.44" y="502.2" font-size="5.8" fill="#222" text-anchor="middle" font-family='"Liberation Serif", serif'>42</text>
<text x="325.44" y="502.2" font-size="5.8" fill="#222" text-anchor="middle" font-family='"Liberation Serif", serif'>44</text>
<text x="349.44" y="502.2" font-size="5.8" fill="#222" text-anchor="middle" font-family='"Liberation Serif", serif'>46</text>
<text x="373.44" y="502.2" font-size="5.8" fill="#222" text-anchor="middle" font-family='"Liberation Serif", serif'>48</text>
<text x="397.44" y="502.2" font-size="5.8" fill="#222" text-anchor="middle" font-family='"Liberation Serif", serif'>50</text>
<text x="259.8" y="488.38" font-size="5.8" fill="#222" text-anchor="end" font-family='"Liberation Serif", serif'>2.5</text>
<text x="259.8" y="475.9" font-size="5.8" fill="#222" text-anchor="end" font-family='"Liberation Serif", serif'>2.6</text>
<text x="259.8" y="463.42" font-size="5.8" fill="#222" text-anchor="end" font-family='"Liberation Serif", serif'>2.7</text>
<text x="259.8" y="450.94" font-size="5.8" fill="#222" text-anchor="end" font-family='"Liberation Serif", serif'>2.8</text>
<text x="259.8" y="438.46" font-size="5.8" fill="#222" text-anchor="end" font-family='"Liberation Serif", serif'>2.9</text>
<text x="259.8" y="425.98" font-size="5.8" fill="#222" text-anchor="end" font-family='"Liberation Serif", serif'>3</text>
<text x="259.8" y="413.5" font-size="5.8" fill="#222" text-anchor="end" font-family='"Liberation Serif", serif'>3.1</text>
<clipPath id="ci"><rect x="261.6" y="407.71" width="145.92" height="86.49"/></clipPath>
<g clip-path="url(#ci)">
<polyline points="241.44,464 253.44,440.29 265.44,451.52 277.44,431.55 289.44,486.46 301.44,457.76 313.44,483.97 325.44,450.27 337.44,436.54 349.44,470.24 361.44,425.31 373.44,452.77 385.44,416.57 397.44,455.26 409.44,470.24 421.44,460.25" fill="none" stroke="#f9b548" stroke-width="1.05" stroke-linejoin="round" stroke-linecap="round" />
<circle cx="241.44" cy="464" r="0.85" fill="#f9b548"/>
<circle cx="253.44" cy="440.29" r="0.85" fill="#f9b548"/>
<circle cx="265.44" cy="451.52" r="0.85" fill="#f9b548"/>
<circle cx="277.44" cy="431.55" r="0.85" fill="#f9b548"/>
<circle cx="289.44" cy="486.46" r="0.85" fill="#f9b548"/>
<circle cx="301.44" cy="457.76" r="0.85" fill="#f9b548"/>
<circle cx="313.44" cy="483.97" r="0.85" fill="#f9b548"/>
<circle cx="325.44" cy="450.27" r="0.85" fill="#f9b548"/>
<circle cx="337.44" cy="436.54" r="0.85" fill="#f9b548"/>
<circle cx="349.44" cy="470.24" r="0.85" fill="#f9b548"/>
<circle cx="361.44" cy="425.31" r="0.85" fill="#f9b548"/>
<circle cx="373.44" cy="452.77" r="0.85" fill="#f9b548"/>
<circle cx="385.44" cy="416.57" r="0.85" fill="#f9b548"/>
<circle cx="397.44" cy="455.26" r="0.85" fill="#f9b548"/>
<circle cx="409.44" cy="470.24" r="0.85" fill="#f9b548"/>
<circle cx="421.44" cy="460.25" r="0.85" fill="#f9b548"/>
<polyline points="241.44,478.97 253.44,454.01 265.44,452.14 277.44,447.77 289.44,471.49 301.44,471.49 313.44,445.28 325.44,467.74 337.44,466.49 349.44,445.28 361.44,432.8 373.44,454.01 385.44,459.01 397.44,461.5 409.44,431.55 421.44,436.54" fill="none" stroke="#36a6dc" stroke-width="1.05" stroke-linejoin="round" stroke-linecap="round" />
<circle cx="241.44" cy="478.97" r="0.85" fill="#36a6dc"/>
<circle cx="253.44" cy="454.01" r="0.85" fill="#36a6dc"/>
<circle cx="265.44" cy="452.14" r="0.85" fill="#36a6dc"/>
<circle cx="277.44" cy="447.77" r="0.85" fill="#36a6dc"/>
<circle cx="289.44" cy="471.49" r="0.85" fill="#36a6dc"/>
<circle cx="301.44" cy="471.49" r="0.85" fill="#36a6dc"/>
<circle cx="313.44" cy="445.28" r="0.85" fill="#36a6dc"/>
<circle cx="325.44" cy="467.74" r="0.85" fill="#36a6dc"/>
<circle cx="337.44" cy="466.49" r="0.85" fill="#36a6dc"/>
<circle cx="349.44" cy="445.28" r="0.85" fill="#36a6dc"/>
<circle cx="361.44" cy="432.8" r="0.85" fill="#36a6dc"/>
<circle cx="373.44" cy="454.01" r="0.85" fill="#36a6dc"/>
<circle cx="385.44" cy="459.01" r="0.85" fill="#36a6dc"/>
<circle cx="397.44" cy="461.5" r="0.85" fill="#36a6dc"/>
<circle cx="409.44" cy="431.55" r="0.85" fill="#36a6dc"/>
<circle cx="421.44" cy="436.54" r="0.85" fill="#36a6dc"/>
<polyline points="241.44,467.74 253.44,470.24 265.44,459.01 277.44,471.49 289.44,452.77 301.44,459.01 313.44,466.49 325.44,455.26 337.44,441.53 349.44,434.05 361.44,432.8 373.44,432.8 385.44,434.05 397.44,432.8 409.44,432.8 421.44,432.8" fill="none" stroke="#dea8f7" stroke-width="1.05" stroke-linejoin="round" stroke-linecap="round" />
<circle cx="241.44" cy="467.74" r="0.85" fill="#dea8f7"/>
<circle cx="253.44" cy="470.24" r="0.85" fill="#dea8f7"/>
<circle cx="265.44" cy="459.01" r="0.85" fill="#dea8f7"/>
<circle cx="277.44" cy="471.49" r="0.85" fill="#dea8f7"/>
<circle cx="289.44" cy="452.77" r="0.85" fill="#dea8f7"/>
<circle cx="301.44" cy="459.01" r="0.85" fill="#dea8f7"/>
<circle cx="313.44" cy="466.49" r="0.85" fill="#dea8f7"/>
<circle cx="325.44" cy="455.26" r="0.85" fill="#dea8f7"/>
<circle cx="337.44" cy="441.53" r="0.85" fill="#dea8f7"/>
<circle cx="349.44" cy="434.05" r="0.85" fill="#dea8f7"/>
<circle cx="361.44" cy="432.8" r="0.85" fill="#dea8f7"/>
<circle cx="373.44" cy="432.8" r="0.85" fill="#dea8f7"/>
<circle cx="385.44" cy="434.05" r="0.85" fill="#dea8f7"/>
<circle cx="397.44" cy="432.8" r="0.85" fill="#dea8f7"/>
<circle cx="409.44" cy="432.8" r="0.85" fill="#dea8f7"/>
<circle cx="421.44" cy="432.8" r="0.85" fill="#dea8f7"/>
<polyline points="241.44,468.99 253.44,462.75 265.44,468.99 277.44,461.5 289.44,455.26 301.44,457.76 313.44,456.51 325.44,457.76 337.44,451.52 349.44,440.29 361.44,449.02 373.44,446.53 385.44,447.77 397.44,439.04 409.44,437.79 421.44,435.29" fill="none" stroke="#f0416f" stroke-width="1.05" stroke-linejoin="round" stroke-linecap="round" />
<circle cx="241.44" cy="468.99" r="0.85" fill="#f0416f"/>
<circle cx="253.44" cy="462.75" r="0.85" fill="#f0416f"/>
<circle cx="265.44" cy="468.99" r="0.85" fill="#f0416f"/>
<circle cx="277.44" cy="461.5" r="0.85" fill="#f0416f"/>
<circle cx="289.44" cy="455.26" r="0.85" fill="#f0416f"/>
<circle cx="301.44" cy="457.76" r="0.85" fill="#f0416f"/>
<circle cx="313.44" cy="456.51" r="0.85" fill="#f0416f"/>
<circle cx="325.44" cy="457.76" r="0.85" fill="#f0416f"/>
<circle cx="337.44" cy="451.52" r="0.85" fill="#f0416f"/>
<circle cx="349.44" cy="440.29" r="0.85" fill="#f0416f"/>
<circle cx="361.44" cy="449.02" r="0.85" fill="#f0416f"/>
<circle cx="373.44" cy="446.53" r="0.85" fill="#f0416f"/>
<circle cx="385.44" cy="447.77" r="0.85" fill="#f0416f"/>
<circle cx="397.44" cy="439.04" r="0.85" fill="#f0416f"/>
<circle cx="409.44" cy="437.79" r="0.85" fill="#f0416f"/>
<circle cx="421.44" cy="435.29" r="0.85" fill="#f0416f"/>
<polyline points="241.44,469.61 253.44,467.74 265.44,465.25 277.44,462.75 289.44,460.25 301.44,458.38 313.44,456.51 325.44,454.01 337.44,449.02 349.44,445.28 361.44,444.78 373.44,444.4 385.44,444.03 397.44,442.16 409.44,440.54 421.44,439.04" fill="none" stroke="#4c6c8e" stroke-width="1.2" stroke-linejoin="round" stroke-linecap="round" />
</g>
</svg>
</body></html>
